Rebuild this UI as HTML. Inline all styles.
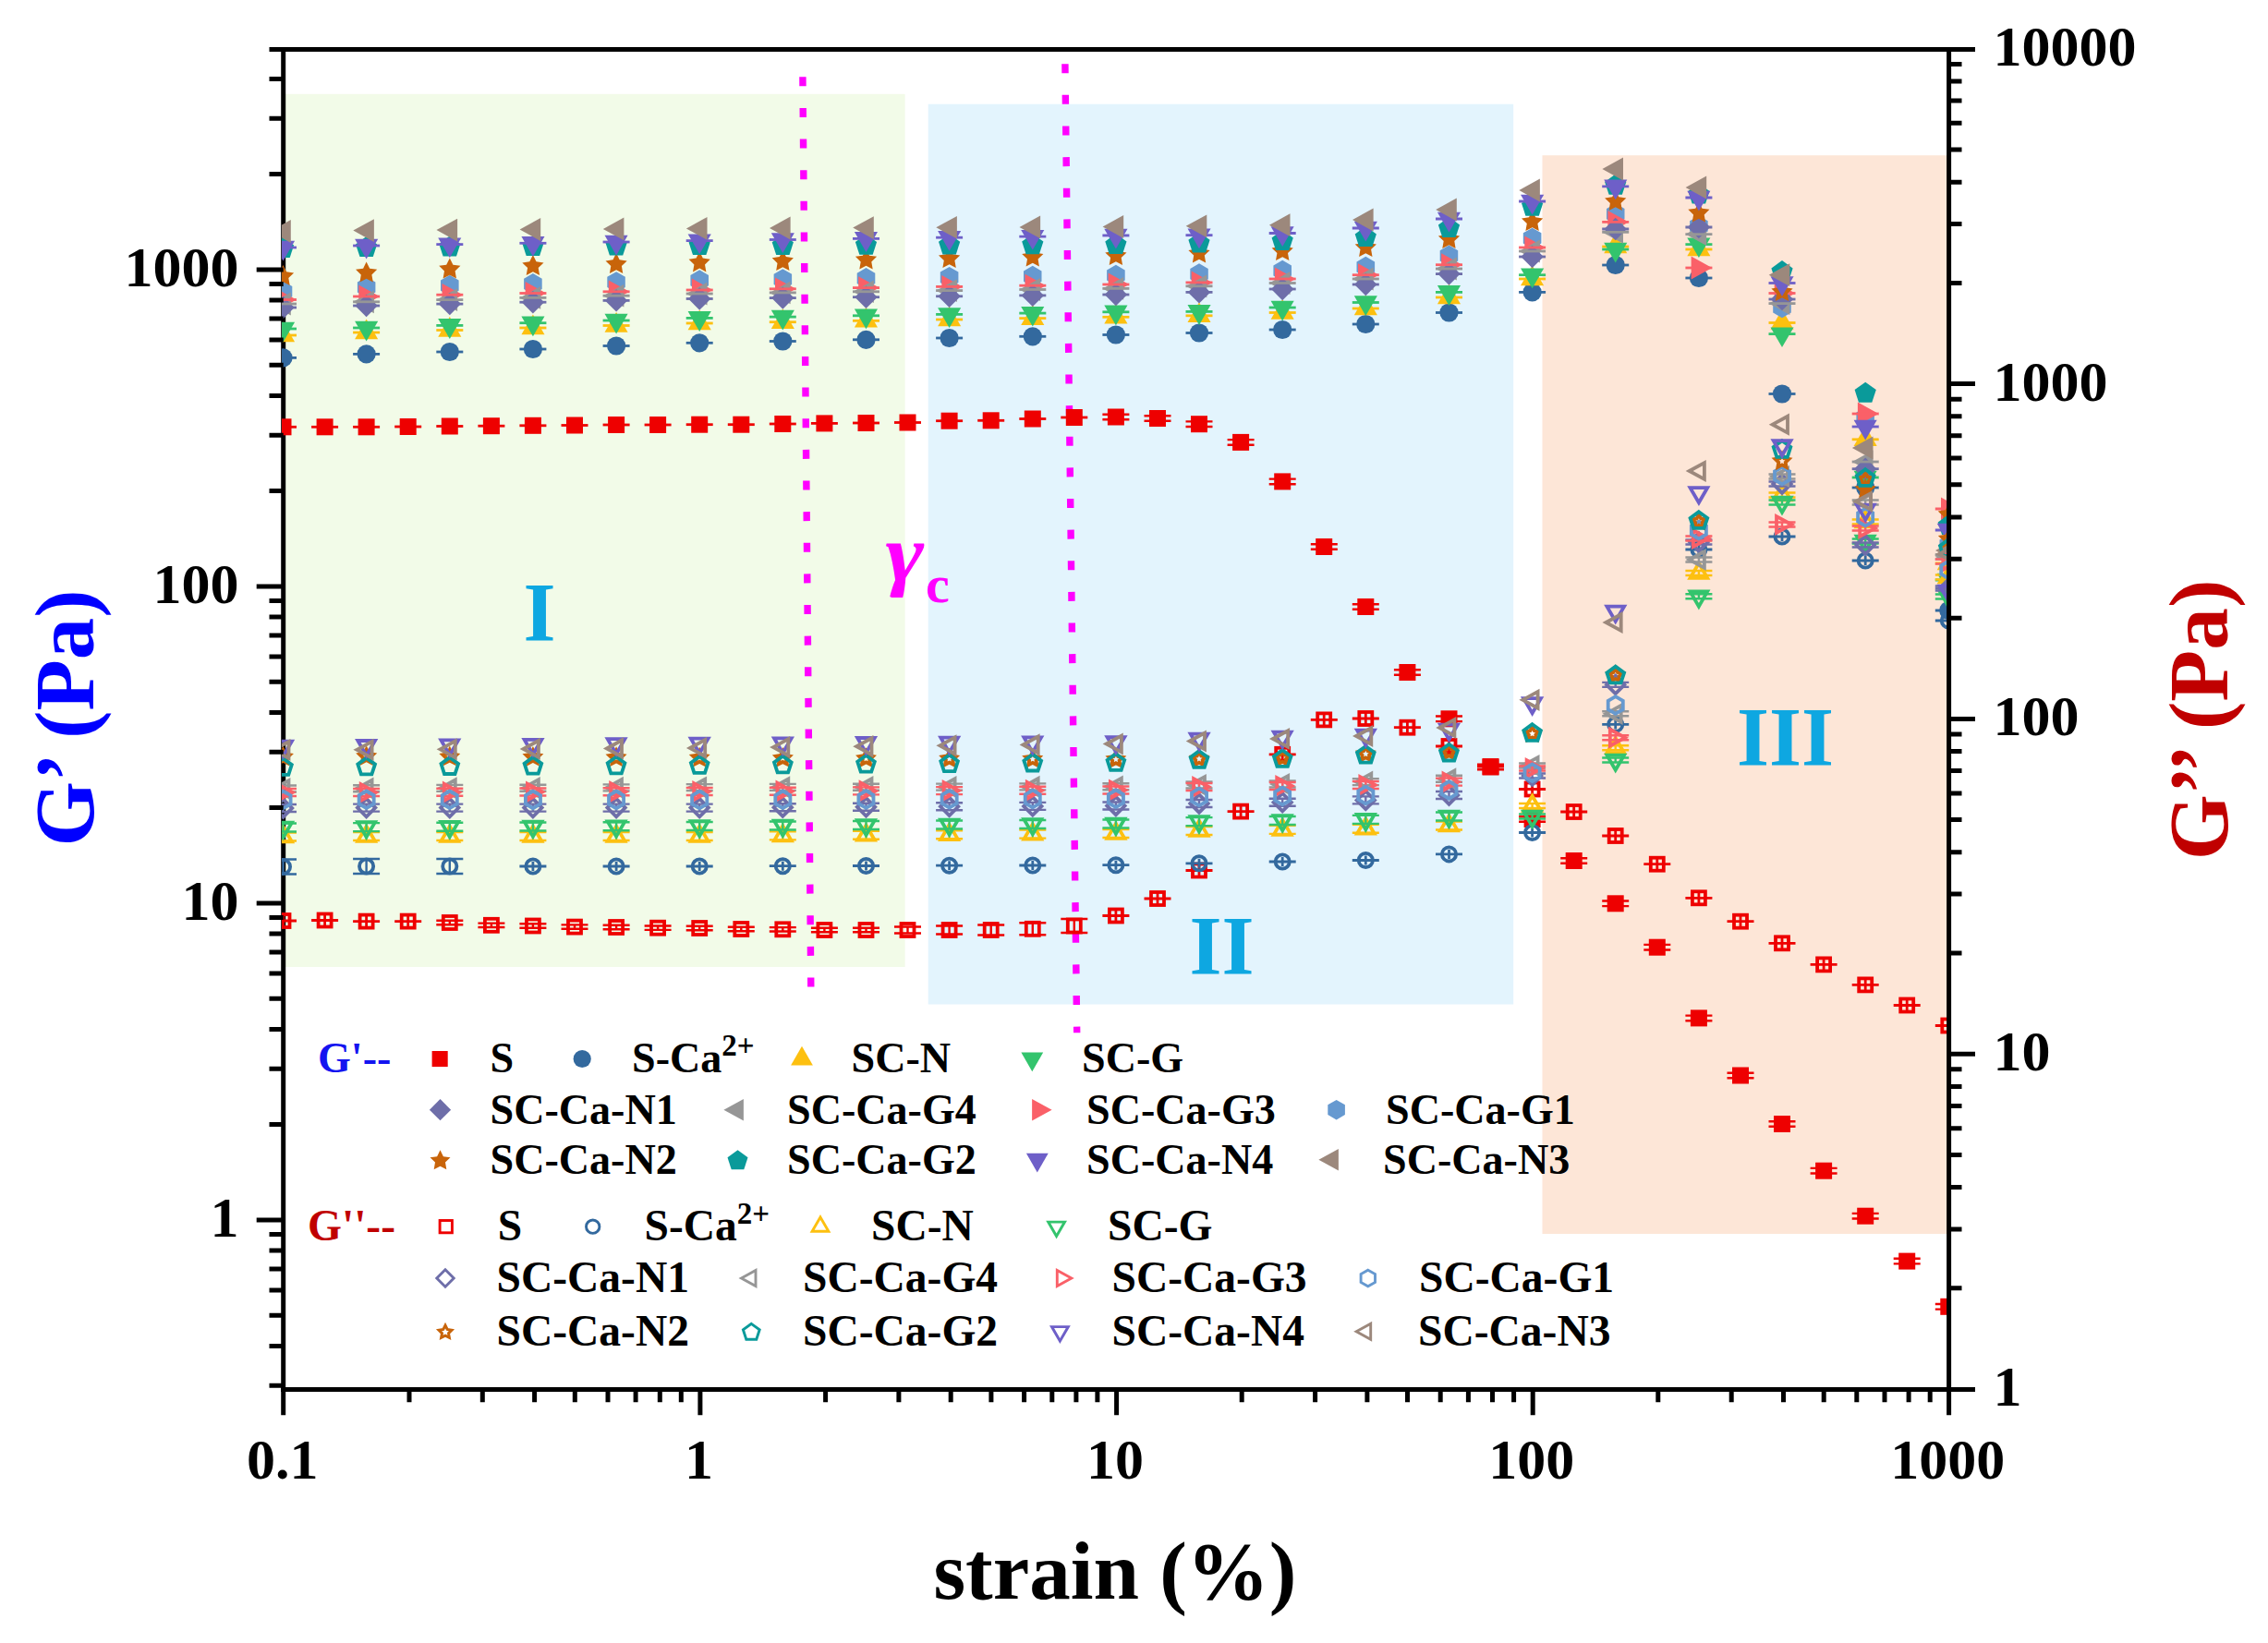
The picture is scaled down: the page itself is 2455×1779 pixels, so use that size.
<!DOCTYPE html>
<html lang="en"><head><meta charset="utf-8"><title>Strain sweep: G' and G'' versus strain</title>
<style>
html,body{margin:0;padding:0;background:#fff}
body{width:2455px;height:1779px;overflow:hidden}
svg{display:block}
text{font-family:"Liberation Serif","Times New Roman",Times,serif;font-weight:bold}
.tk{font-size:62px;fill:#000}
.lg1{font-size:46.1px;fill:#000}
.lg2{font-size:47.5px;fill:#000}
.ax{font-size:88px}
.rg{font-size:90px;fill:#0ea7e1}
</style></head>
<body>
<svg width="2455" height="1779" viewBox="0 0 2455 1779">
<rect width="2455" height="1779" fill="#fff"/>
<defs><clipPath id="pc"><rect x="305" y="53.6" width="1804.6" height="1450.8"/></clipPath></defs>
<g id="regions">
<rect x="306.7" y="101.8" width="672.9" height="945.2" fill="#f2fbe8"/>
<rect x="1004.7" y="112.7" width="633.5" height="974.8" fill="#e3f4fd"/>
<rect x="1669.5" y="168.2" width="440.1" height="1167.8" fill="#fde6d7"/>
</g>
<g id="guides" stroke="#ff00ff" stroke-width="7.4" stroke-dasharray="10 23.63" fill="none">
<path d="M868.9 83.3L877.8 1069.4"/>
<path d="M1152.9 69.2L1165.7 1118.2"/>
</g>
<path d="M306.7 51.1V1506.9" stroke="#000" stroke-width="5" fill="none"/>
<g id="data" clip-path="url(#pc)">
<g id="storage-modulus">
<path d="M292 462.3H321" stroke="#ee0000" stroke-width="2.8" fill="none"/><rect x="297.5" y="453.3" width="18" height="18" fill="#ee0000"/><path d="M337.1 462.3H366.1" stroke="#ee0000" stroke-width="2.8" fill="none"/><rect x="342.6" y="453.3" width="18" height="18" fill="#ee0000"/><path d="M382.1 462.3H411.1" stroke="#ee0000" stroke-width="2.8" fill="none"/><rect x="387.6" y="453.3" width="18" height="18" fill="#ee0000"/><path d="M427.2 462H456.2" stroke="#ee0000" stroke-width="2.8" fill="none"/><rect x="432.7" y="453" width="18" height="18" fill="#ee0000"/><path d="M472.3 461.5H501.3" stroke="#ee0000" stroke-width="2.8" fill="none"/><rect x="477.8" y="452.5" width="18" height="18" fill="#ee0000"/><path d="M517.4 461.2H546.4" stroke="#ee0000" stroke-width="2.8" fill="none"/><rect x="522.9" y="452.2" width="18" height="18" fill="#ee0000"/><path d="M562.4 460.8H591.4" stroke="#ee0000" stroke-width="2.8" fill="none"/><rect x="567.9" y="451.8" width="18" height="18" fill="#ee0000"/><path d="M607.5 460.5H636.5" stroke="#ee0000" stroke-width="2.8" fill="none"/><rect x="613" y="451.5" width="18" height="18" fill="#ee0000"/><path d="M652.6 460H681.6" stroke="#ee0000" stroke-width="2.8" fill="none"/><rect x="658.1" y="451" width="18" height="18" fill="#ee0000"/><path d="M697.6 460H726.6" stroke="#ee0000" stroke-width="2.8" fill="none"/><rect x="703.1" y="451" width="18" height="18" fill="#ee0000"/><path d="M742.7 459.7H771.7" stroke="#ee0000" stroke-width="2.8" fill="none"/><rect x="748.2" y="450.7" width="18" height="18" fill="#ee0000"/><path d="M787.8 459.7H816.8" stroke="#ee0000" stroke-width="2.8" fill="none"/><rect x="793.3" y="450.7" width="18" height="18" fill="#ee0000"/><path d="M832.8 459H861.8" stroke="#ee0000" stroke-width="2.8" fill="none"/><rect x="838.3" y="450" width="18" height="18" fill="#ee0000"/><path d="M877.9 458.4H906.9" stroke="#ee0000" stroke-width="2.8" fill="none"/><rect x="883.4" y="449.4" width="18" height="18" fill="#ee0000"/><path d="M923 458H952" stroke="#ee0000" stroke-width="2.8" fill="none"/><rect x="928.5" y="449" width="18" height="18" fill="#ee0000"/><path d="M968 457.5H997" stroke="#ee0000" stroke-width="2.8" fill="none"/><rect x="973.5" y="448.5" width="18" height="18" fill="#ee0000"/><path d="M1013.1 455.7H1042.1" stroke="#ee0000" stroke-width="2.8" fill="none"/><rect x="1018.6" y="446.7" width="18" height="18" fill="#ee0000"/><path d="M1058.2 455.3H1087.2" stroke="#ee0000" stroke-width="2.8" fill="none"/><rect x="1063.7" y="446.3" width="18" height="18" fill="#ee0000"/><path d="M1103.3 453.5H1132.3" stroke="#ee0000" stroke-width="2.8" fill="none"/><rect x="1108.8" y="444.5" width="18" height="18" fill="#ee0000"/><path d="M1148.3 452H1177.3" stroke="#ee0000" stroke-width="2.8" fill="none"/><rect x="1153.8" y="443" width="18" height="18" fill="#ee0000"/><path d="M1193.4 448.7H1222.4M1193.4 454.3H1222.4M1207.9 448.7V454.3" stroke="#ee0000" stroke-width="2.4" fill="none"/><rect x="1198.9" y="442.5" width="18" height="18" fill="#ee0000"/><path d="M1238.5 450.2H1267.5M1238.5 455.8H1267.5M1253 450.2V455.8" stroke="#ee0000" stroke-width="2.4" fill="none"/><rect x="1244" y="444" width="18" height="18" fill="#ee0000"/><path d="M1283.5 456.4H1312.5M1283.5 462H1312.5M1298 456.4V462" stroke="#ee0000" stroke-width="2.4" fill="none"/><rect x="1289" y="450.2" width="18" height="18" fill="#ee0000"/><path d="M1328.6 476.1H1357.6M1328.6 481.7H1357.6M1343.1 476.1V481.7" stroke="#ee0000" stroke-width="2.4" fill="none"/><rect x="1334.1" y="469.9" width="18" height="18" fill="#ee0000"/><path d="M1373.7 518.6H1402.7M1373.7 524.2H1402.7M1388.2 518.6V524.2" stroke="#ee0000" stroke-width="2.4" fill="none"/><rect x="1379.2" y="512.4" width="18" height="18" fill="#ee0000"/><path d="M1418.8 589.2H1447.8M1418.8 594.8H1447.8M1433.2 589.2V594.8" stroke="#ee0000" stroke-width="2.4" fill="none"/><rect x="1424.2" y="583" width="18" height="18" fill="#ee0000"/><path d="M1463.8 654.2H1492.8M1463.8 659.8H1492.8M1478.3 654.2V659.8" stroke="#ee0000" stroke-width="2.4" fill="none"/><rect x="1469.3" y="648" width="18" height="18" fill="#ee0000"/><path d="M1508.9 725.2H1537.9M1508.9 730.8H1537.9M1523.4 725.2V730.8" stroke="#ee0000" stroke-width="2.4" fill="none"/><rect x="1514.4" y="719" width="18" height="18" fill="#ee0000"/><path d="M1554 775.5H1583M1554 781.1H1583M1568.5 775.5V781.1" stroke="#ee0000" stroke-width="2.4" fill="none"/><rect x="1559.5" y="769.3" width="18" height="18" fill="#ee0000"/><path d="M1599 827.7H1628M1599 833.3H1628M1613.5 827.7V833.3" stroke="#ee0000" stroke-width="2.4" fill="none"/><rect x="1604.5" y="821.5" width="18" height="18" fill="#ee0000"/><path d="M1644.1 884.2H1673.1M1644.1 889.8H1673.1M1658.6 884.2V889.8" stroke="#ee0000" stroke-width="2.4" fill="none"/><rect x="1649.6" y="878" width="18" height="18" fill="#ee0000"/><path d="M1689.2 929.2H1718.2M1689.2 934.8H1718.2M1703.7 929.2V934.8" stroke="#ee0000" stroke-width="2.4" fill="none"/><rect x="1694.7" y="923" width="18" height="18" fill="#ee0000"/><path d="M1734.2 975.5H1763.2M1734.2 981.1H1763.2M1748.7 975.5V981.1" stroke="#ee0000" stroke-width="2.4" fill="none"/><rect x="1739.7" y="969.3" width="18" height="18" fill="#ee0000"/><path d="M1779.3 1022.9H1808.3M1779.3 1028.5H1808.3M1793.8 1022.9V1028.5" stroke="#ee0000" stroke-width="2.4" fill="none"/><rect x="1784.8" y="1016.7" width="18" height="18" fill="#ee0000"/><path d="M1824.4 1099.6H1853.4M1824.4 1105.2H1853.4M1838.9 1099.6V1105.2" stroke="#ee0000" stroke-width="2.4" fill="none"/><rect x="1829.9" y="1093.4" width="18" height="18" fill="#ee0000"/><path d="M1869.5 1161.7H1898.5M1869.5 1167.3H1898.5M1884 1161.7V1167.3" stroke="#ee0000" stroke-width="2.4" fill="none"/><rect x="1875" y="1155.5" width="18" height="18" fill="#ee0000"/><path d="M1914.5 1214.2H1943.5M1914.5 1219.8H1943.5M1929 1214.2V1219.8" stroke="#ee0000" stroke-width="2.4" fill="none"/><rect x="1920" y="1208" width="18" height="18" fill="#ee0000"/><path d="M1959.6 1264.9H1988.6M1959.6 1270.5H1988.6M1974.1 1264.9V1270.5" stroke="#ee0000" stroke-width="2.4" fill="none"/><rect x="1965.1" y="1258.7" width="18" height="18" fill="#ee0000"/><path d="M2004.7 1313.9H2033.7M2004.7 1319.5H2033.7M2019.2 1313.9V1319.5" stroke="#ee0000" stroke-width="2.4" fill="none"/><rect x="2010.2" y="1307.7" width="18" height="18" fill="#ee0000"/><path d="M2049.7 1362.8H2078.7M2049.7 1368.4H2078.7M2064.2 1362.8V1368.4" stroke="#ee0000" stroke-width="2.4" fill="none"/><rect x="2055.2" y="1356.6" width="18" height="18" fill="#ee0000"/><path d="M2094.8 1412H2123.8M2094.8 1417.6H2123.8M2109.3 1412V1417.6" stroke="#ee0000" stroke-width="2.4" fill="none"/><rect x="2100.3" y="1405.8" width="18" height="18" fill="#ee0000"/>
<path d="M292 387.4H321" stroke="#33699e" stroke-width="2.8" fill="none"/><circle cx="306.5" cy="387.4" r="10.1" fill="#33699e"/><path d="M382.1 383.4H411.1" stroke="#33699e" stroke-width="2.8" fill="none"/><circle cx="396.6" cy="383.4" r="10.1" fill="#33699e"/><path d="M472.3 381H501.3" stroke="#33699e" stroke-width="2.8" fill="none"/><circle cx="486.8" cy="381" r="10.1" fill="#33699e"/><path d="M562.4 378H591.4" stroke="#33699e" stroke-width="2.8" fill="none"/><circle cx="576.9" cy="378" r="10.1" fill="#33699e"/><path d="M652.6 374.5H681.6" stroke="#33699e" stroke-width="2.8" fill="none"/><circle cx="667.1" cy="374.5" r="10.1" fill="#33699e"/><path d="M742.7 371.3H771.7" stroke="#33699e" stroke-width="2.8" fill="none"/><circle cx="757.2" cy="371.3" r="10.1" fill="#33699e"/><path d="M832.8 369.5H861.8" stroke="#33699e" stroke-width="2.8" fill="none"/><circle cx="847.3" cy="369.5" r="10.1" fill="#33699e"/><path d="M923 367.8H952" stroke="#33699e" stroke-width="2.8" fill="none"/><circle cx="937.5" cy="367.8" r="10.1" fill="#33699e"/><path d="M1013.1 366H1042.1" stroke="#33699e" stroke-width="2.8" fill="none"/><circle cx="1027.6" cy="366" r="10.1" fill="#33699e"/><path d="M1103.3 364.3H1132.3" stroke="#33699e" stroke-width="2.8" fill="none"/><circle cx="1117.8" cy="364.3" r="10.1" fill="#33699e"/><path d="M1193.4 362.5H1222.4" stroke="#33699e" stroke-width="2.8" fill="none"/><circle cx="1207.9" cy="362.5" r="10.1" fill="#33699e"/><path d="M1283.5 360.5H1312.5" stroke="#33699e" stroke-width="2.8" fill="none"/><circle cx="1298" cy="360.5" r="10.1" fill="#33699e"/><path d="M1373.7 357H1402.7" stroke="#33699e" stroke-width="2.8" fill="none"/><circle cx="1388.2" cy="357" r="10.1" fill="#33699e"/><path d="M1463.8 351H1492.8" stroke="#33699e" stroke-width="2.8" fill="none"/><circle cx="1478.3" cy="351" r="10.1" fill="#33699e"/><path d="M1554 338.5H1583" stroke="#33699e" stroke-width="2.8" fill="none"/><circle cx="1568.5" cy="338.5" r="10.1" fill="#33699e"/><path d="M1644.1 316.4H1673.1" stroke="#33699e" stroke-width="2.8" fill="none"/><circle cx="1658.6" cy="316.4" r="10.1" fill="#33699e"/><path d="M1734.2 287H1763.2" stroke="#33699e" stroke-width="2.8" fill="none"/><circle cx="1748.7" cy="287" r="10.1" fill="#33699e"/><path d="M1824.4 301H1853.4" stroke="#33699e" stroke-width="2.8" fill="none"/><circle cx="1838.9" cy="301" r="10.1" fill="#33699e"/><path d="M1914.5 426.5H1943.5" stroke="#33699e" stroke-width="2.8" fill="none"/><circle cx="1929" cy="426.5" r="10.1" fill="#33699e"/><path d="M2004.7 528H2033.7" stroke="#33699e" stroke-width="2.8" fill="none"/><circle cx="2019.2" cy="528" r="10.1" fill="#33699e"/><path d="M2094.8 661H2123.8" stroke="#33699e" stroke-width="2.8" fill="none"/><circle cx="2109.3" cy="661" r="10.1" fill="#33699e"/>
<path d="M292 363H321" stroke="#fdc010" stroke-width="2.8" fill="none"/><polygon points="306.5,348.5 319.1,370.2 293.9,370.2" fill="#fdc010"/><path d="M382.1 360H411.1" stroke="#fdc010" stroke-width="2.8" fill="none"/><polygon points="396.6,345.5 409.2,367.2 384.1,367.2" fill="#fdc010"/><path d="M472.3 357.5H501.3" stroke="#fdc010" stroke-width="2.8" fill="none"/><polygon points="486.8,343 499.3,364.8 474.2,364.8" fill="#fdc010"/><path d="M562.4 355H591.4" stroke="#fdc010" stroke-width="2.8" fill="none"/><polygon points="576.9,340.5 589.5,362.2 564.4,362.2" fill="#fdc010"/><path d="M652.6 352.5H681.6" stroke="#fdc010" stroke-width="2.8" fill="none"/><polygon points="667.1,338 679.6,359.8 654.5,359.8" fill="#fdc010"/><path d="M742.7 350H771.7" stroke="#fdc010" stroke-width="2.8" fill="none"/><polygon points="757.2,335.5 769.8,357.2 744.6,357.2" fill="#fdc010"/><path d="M832.8 348.7H861.8" stroke="#fdc010" stroke-width="2.8" fill="none"/><polygon points="847.3,334.2 859.9,355.9 834.8,355.9" fill="#fdc010"/><path d="M923 347.3H952" stroke="#fdc010" stroke-width="2.8" fill="none"/><polygon points="937.5,332.8 950,354.6 924.9,354.6" fill="#fdc010"/><path d="M1013.1 346H1042.1" stroke="#fdc010" stroke-width="2.8" fill="none"/><polygon points="1027.6,331.5 1040.2,353.2 1015.1,353.2" fill="#fdc010"/><path d="M1103.3 344.6H1132.3" stroke="#fdc010" stroke-width="2.8" fill="none"/><polygon points="1117.8,330.1 1130.3,351.9 1105.2,351.9" fill="#fdc010"/><path d="M1193.4 343.3H1222.4" stroke="#fdc010" stroke-width="2.8" fill="none"/><polygon points="1207.9,328.8 1220.5,350.6 1195.3,350.6" fill="#fdc010"/><path d="M1283.5 341.8H1312.5" stroke="#fdc010" stroke-width="2.8" fill="none"/><polygon points="1298,327.3 1310.6,349.1 1285.5,349.1" fill="#fdc010"/><path d="M1373.7 338.5H1402.7" stroke="#fdc010" stroke-width="2.8" fill="none"/><polygon points="1388.2,324 1400.7,345.8 1375.6,345.8" fill="#fdc010"/><path d="M1463.8 334H1492.8" stroke="#fdc010" stroke-width="2.8" fill="none"/><polygon points="1478.3,319.5 1490.9,341.2 1465.8,341.2" fill="#fdc010"/><path d="M1554 322H1583" stroke="#fdc010" stroke-width="2.8" fill="none"/><polygon points="1568.5,307.5 1581,329.2 1555.9,329.2" fill="#fdc010"/><path d="M1644.1 302H1673.1" stroke="#fdc010" stroke-width="2.8" fill="none"/><polygon points="1658.6,287.5 1671.2,309.2 1646,309.2" fill="#fdc010"/><path d="M1734.2 267H1763.2" stroke="#fdc010" stroke-width="2.8" fill="none"/><polygon points="1748.7,252.5 1761.3,274.2 1736.2,274.2" fill="#fdc010"/><path d="M1824.4 270H1853.4" stroke="#fdc010" stroke-width="2.8" fill="none"/><polygon points="1838.9,255.5 1851.4,277.2 1826.3,277.2" fill="#fdc010"/><path d="M1914.5 349.5H1943.5" stroke="#fdc010" stroke-width="2.8" fill="none"/><polygon points="1929,335 1941.6,356.8 1916.5,356.8" fill="#fdc010"/><path d="M2004.7 475.8H2033.7" stroke="#fdc010" stroke-width="2.8" fill="none"/><polygon points="2019.2,461.3 2031.7,483.1 2006.6,483.1" fill="#fdc010"/><path d="M2094.8 610H2123.8" stroke="#fdc010" stroke-width="2.8" fill="none"/><polygon points="2109.3,595.5 2121.9,617.2 2096.7,617.2" fill="#fdc010"/>
<path d="M292 356H321" stroke="#33c46d" stroke-width="2.8" fill="none"/><polygon points="306.5,370.5 319.1,348.8 293.9,348.8" fill="#33c46d"/><path d="M382.1 355H411.1" stroke="#33c46d" stroke-width="2.8" fill="none"/><polygon points="396.6,369.5 409.2,347.8 384.1,347.8" fill="#33c46d"/><path d="M472.3 352.4H501.3" stroke="#33c46d" stroke-width="2.8" fill="none"/><polygon points="486.8,366.9 499.3,345.1 474.2,345.1" fill="#33c46d"/><path d="M562.4 349.7H591.4" stroke="#33c46d" stroke-width="2.8" fill="none"/><polygon points="576.9,364.2 589.5,342.4 564.4,342.4" fill="#33c46d"/><path d="M652.6 347H681.6" stroke="#33c46d" stroke-width="2.8" fill="none"/><polygon points="667.1,361.5 679.6,339.8 654.5,339.8" fill="#33c46d"/><path d="M742.7 344.4H771.7" stroke="#33c46d" stroke-width="2.8" fill="none"/><polygon points="757.2,358.9 769.8,337.1 744.6,337.1" fill="#33c46d"/><path d="M832.8 343.1H861.8" stroke="#33c46d" stroke-width="2.8" fill="none"/><polygon points="847.3,357.6 859.9,335.8 834.8,335.8" fill="#33c46d"/><path d="M923 341.8H952" stroke="#33c46d" stroke-width="2.8" fill="none"/><polygon points="937.5,356.3 950,334.5 924.9,334.5" fill="#33c46d"/><path d="M1013.1 340.4H1042.1" stroke="#33c46d" stroke-width="2.8" fill="none"/><polygon points="1027.6,354.9 1040.2,333.2 1015.1,333.2" fill="#33c46d"/><path d="M1103.3 339.1H1132.3" stroke="#33c46d" stroke-width="2.8" fill="none"/><polygon points="1117.8,353.6 1130.3,331.9 1105.2,331.9" fill="#33c46d"/><path d="M1193.4 337.8H1222.4" stroke="#33c46d" stroke-width="2.8" fill="none"/><polygon points="1207.9,352.3 1220.5,330.6 1195.3,330.6" fill="#33c46d"/><path d="M1283.5 337.4H1312.5" stroke="#33c46d" stroke-width="2.8" fill="none"/><polygon points="1298,351.9 1310.6,330.1 1285.5,330.1" fill="#33c46d"/><path d="M1373.7 333H1402.7" stroke="#33c46d" stroke-width="2.8" fill="none"/><polygon points="1388.2,347.5 1400.7,325.8 1375.6,325.8" fill="#33c46d"/><path d="M1463.8 327.5H1492.8" stroke="#33c46d" stroke-width="2.8" fill="none"/><polygon points="1478.3,342 1490.9,320.2 1465.8,320.2" fill="#33c46d"/><path d="M1554 316.4H1583" stroke="#33c46d" stroke-width="2.8" fill="none"/><polygon points="1568.5,330.9 1581,309.1 1555.9,309.1" fill="#33c46d"/><path d="M1644.1 297.7H1673.1" stroke="#33c46d" stroke-width="2.8" fill="none"/><polygon points="1658.6,312.2 1671.2,290.4 1646,290.4" fill="#33c46d"/><path d="M1734.2 270H1763.2" stroke="#33c46d" stroke-width="2.8" fill="none"/><polygon points="1748.7,284.5 1761.3,262.8 1736.2,262.8" fill="#33c46d"/><path d="M1824.4 264.6H1853.4" stroke="#33c46d" stroke-width="2.8" fill="none"/><polygon points="1838.9,279.1 1851.4,257.4 1826.3,257.4" fill="#33c46d"/><path d="M1914.5 361.6H1943.5" stroke="#33c46d" stroke-width="2.8" fill="none"/><polygon points="1929,376.1 1941.6,354.4 1916.5,354.4" fill="#33c46d"/><path d="M2004.7 517H2033.7" stroke="#33c46d" stroke-width="2.8" fill="none"/><polygon points="2019.2,531.5 2031.7,509.8 2006.6,509.8" fill="#33c46d"/><path d="M2094.8 628H2123.8" stroke="#33c46d" stroke-width="2.8" fill="none"/><polygon points="2109.3,642.5 2121.9,620.8 2096.7,620.8" fill="#33c46d"/>
<polygon points="306.5,304.4 316.3,310.1 316.3,321.3 306.5,327 296.7,321.4 296.7,310.1" fill="#6699d0"/><polygon points="396.6,299.7 406.4,305.4 406.4,316.6 396.6,322.3 386.9,316.6 386.9,305.4" fill="#6699d0"/><polygon points="486.8,297.8 496.6,303.5 496.6,314.8 486.8,320.4 477,314.8 477,303.5" fill="#6699d0"/><polygon points="576.9,296 586.7,301.7 586.7,312.9 576.9,318.6 567.1,313 567.1,301.7" fill="#6699d0"/><polygon points="667.1,294.2 676.8,299.8 676.8,311.1 667.1,316.8 657.3,311.1 657.3,299.8" fill="#6699d0"/><polygon points="757.2,292.3 767,298 767,309.2 757.2,314.9 747.4,309.2 747.4,298" fill="#6699d0"/><polygon points="847.3,291.2 857.1,296.8 857.1,308.1 847.3,313.8 837.6,308.1 837.6,296.8" fill="#6699d0"/><polygon points="937.5,290.1 947.3,295.7 947.3,307 937.5,312.7 927.7,307 927.7,295.7" fill="#6699d0"/><polygon points="1027.6,288.9 1037.4,294.6 1037.4,305.9 1027.6,311.5 1017.8,305.9 1017.8,294.6" fill="#6699d0"/><polygon points="1117.8,287.8 1127.5,293.5 1127.5,304.8 1117.8,310.4 1108,304.8 1108,293.5" fill="#6699d0"/><polygon points="1207.9,286.7 1217.7,292.4 1217.7,303.6 1207.9,309.3 1198.1,303.6 1198.1,292.4" fill="#6699d0"/><polygon points="1298,285.3 1307.8,291 1307.8,302.2 1298,307.9 1288.3,302.2 1288.3,291" fill="#6699d0"/><polygon points="1388.2,281.7 1398,287.4 1398,298.6 1388.2,304.3 1378.4,298.6 1378.4,287.4" fill="#6699d0"/><polygon points="1478.3,277.7 1488.1,283.4 1488.1,294.6 1478.3,300.3 1468.5,294.6 1468.5,283.4" fill="#6699d0"/><polygon points="1568.5,265.5 1578.2,271.2 1578.2,282.4 1568.5,288.1 1558.7,282.5 1558.7,271.2" fill="#6699d0"/><polygon points="1658.6,246.7 1668.4,252.3 1668.4,263.6 1658.6,269.3 1648.8,263.6 1648.8,252.3" fill="#6699d0"/><polygon points="1748.7,220.3 1758.5,225.9 1758.5,237.2 1748.7,242.9 1739,237.2 1739,225.9" fill="#6699d0"/><polygon points="1838.9,233.5 1848.7,239.2 1848.7,250.5 1838.9,256.1 1829.1,250.5 1829.1,239.2" fill="#6699d0"/><polygon points="1929,321.7 1938.8,327.4 1938.8,338.6 1929,344.3 1919.2,338.6 1919.2,327.4" fill="#6699d0"/><polygon points="2019.2,440.7 2028.9,446.4 2028.9,457.6 2019.2,463.3 2009.4,457.6 2009.4,446.4" fill="#6699d0"/><polygon points="2109.3,578.7 2119.1,584.4 2119.1,595.6 2109.3,601.3 2099.5,595.6 2099.5,584.4" fill="#6699d0"/>
<polygon points="320.8,324.5 298.2,312.1 298.2,336.9" fill="#fa6068"/><polygon points="410.9,321 388.3,308.6 388.3,333.4" fill="#fa6068"/><polygon points="501.1,319.2 478.5,306.9 478.5,331.6" fill="#fa6068"/><polygon points="591.2,317.5 568.6,305.1 568.6,329.9" fill="#fa6068"/><polygon points="681.4,315.8 658.8,303.4 658.8,328.1" fill="#fa6068"/><polygon points="771.5,314 748.9,301.6 748.9,326.4" fill="#fa6068"/><polygon points="861.6,312.8 839,300.4 839,325.2" fill="#fa6068"/><polygon points="951.8,311.6 929.2,299.2 929.2,324" fill="#fa6068"/><polygon points="1041.9,310.4 1019.3,298 1019.3,322.8" fill="#fa6068"/><polygon points="1132.1,309.2 1109.5,296.8 1109.5,321.6" fill="#fa6068"/><polygon points="1222.2,308 1199.6,295.6 1199.6,320.4" fill="#fa6068"/><polygon points="1312.3,305.9 1289.7,293.5 1289.7,318.3" fill="#fa6068"/><polygon points="1402.5,302 1379.9,289.6 1379.9,314.4" fill="#fa6068"/><polygon points="1492.6,297.7 1470,285.3 1470,310.1" fill="#fa6068"/><polygon points="1582.8,286.7 1560.2,274.3 1560.2,299.1" fill="#fa6068"/><polygon points="1672.9,268 1650.3,255.6 1650.3,280.4" fill="#fa6068"/><polygon points="1763,240.4 1740.4,228 1740.4,252.8" fill="#fa6068"/><polygon points="1853.2,290 1830.6,277.6 1830.6,302.4" fill="#fa6068"/><polygon points="1943.3,317.5 1920.7,305.1 1920.7,329.9" fill="#fa6068"/><polygon points="2033.5,448 2010.9,435.6 2010.9,460.4" fill="#fa6068"/><polygon points="2123.6,551 2101,538.6 2101,563.4" fill="#fa6068"/>
<polygon points="292.2,329 314.8,316.6 314.8,341.4" fill="#969696"/><polygon points="382.3,326.8 404.9,314.4 404.9,339.2" fill="#969696"/><polygon points="472.5,324.6 495.1,312.2 495.1,337" fill="#969696"/><polygon points="562.6,322.4 585.2,310 585.2,334.8" fill="#969696"/><polygon points="652.8,320.2 675.4,307.8 675.4,332.6" fill="#969696"/><polygon points="742.9,318 765.5,305.6 765.5,330.4" fill="#969696"/><polygon points="833,316.9 855.6,304.5 855.6,329.3" fill="#969696"/><polygon points="923.2,315.8 945.8,303.4 945.8,328.1" fill="#969696"/><polygon points="1013.3,314.6 1035.9,302.3 1035.9,327" fill="#969696"/><polygon points="1103.5,313.5 1126.1,301.1 1126.1,325.9" fill="#969696"/><polygon points="1193.6,312.4 1216.2,300 1216.2,324.8" fill="#969696"/><polygon points="1283.7,309.8 1306.3,297.4 1306.3,322.2" fill="#969696"/><polygon points="1373.9,306.5 1396.5,294.1 1396.5,318.9" fill="#969696"/><polygon points="1464,302 1486.6,289.6 1486.6,314.4" fill="#969696"/><polygon points="1554.2,291 1576.8,278.6 1576.8,303.4" fill="#969696"/><polygon points="1644.3,272 1666.9,259.6 1666.9,284.4" fill="#969696"/><polygon points="1734.4,251.4 1757,239 1757,263.8" fill="#969696"/><polygon points="1824.6,253.6 1847.2,241.2 1847.2,266" fill="#969696"/><polygon points="1914.7,328.6 1937.3,316.2 1937.3,341" fill="#969696"/><polygon points="2004.9,500 2027.5,487.6 2027.5,512.4" fill="#969696"/><polygon points="2095,601 2117.6,588.6 2117.6,613.4" fill="#969696"/>
<path d="M292 333H321" stroke="#6e6ea9" stroke-width="2.8" fill="none"/><polygon points="306.5,320.8 318.7,333 306.5,345.2 294.3,333" fill="#6e6ea9"/><path d="M382.1 331H411.1" stroke="#6e6ea9" stroke-width="2.8" fill="none"/><polygon points="396.6,318.8 408.8,331 396.6,343.2 384.4,331" fill="#6e6ea9"/><path d="M472.3 329.1H501.3" stroke="#6e6ea9" stroke-width="2.8" fill="none"/><polygon points="486.8,316.9 499,329.1 486.8,341.3 474.6,329.1" fill="#6e6ea9"/><path d="M562.4 327.2H591.4" stroke="#6e6ea9" stroke-width="2.8" fill="none"/><polygon points="576.9,315.1 589.1,327.2 576.9,339.4 564.7,327.2" fill="#6e6ea9"/><path d="M652.6 325.4H681.6" stroke="#6e6ea9" stroke-width="2.8" fill="none"/><polygon points="667.1,313.2 679.3,325.4 667.1,337.6 654.9,325.4" fill="#6e6ea9"/><path d="M742.7 323.5H771.7" stroke="#6e6ea9" stroke-width="2.8" fill="none"/><polygon points="757.2,311.3 769.4,323.5 757.2,335.7 745,323.5" fill="#6e6ea9"/><path d="M832.8 322.6H861.8" stroke="#6e6ea9" stroke-width="2.8" fill="none"/><polygon points="847.3,310.4 859.5,322.6 847.3,334.8 835.1,322.6" fill="#6e6ea9"/><path d="M923 321.7H952" stroke="#6e6ea9" stroke-width="2.8" fill="none"/><polygon points="937.5,309.5 949.7,321.7 937.5,333.9 925.3,321.7" fill="#6e6ea9"/><path d="M1013.1 320.8H1042.1" stroke="#6e6ea9" stroke-width="2.8" fill="none"/><polygon points="1027.6,308.6 1039.8,320.8 1027.6,333 1015.4,320.8" fill="#6e6ea9"/><path d="M1103.3 319.9H1132.3" stroke="#6e6ea9" stroke-width="2.8" fill="none"/><polygon points="1117.8,307.7 1130,319.9 1117.8,332.1 1105.6,319.9" fill="#6e6ea9"/><path d="M1193.4 319H1222.4" stroke="#6e6ea9" stroke-width="2.8" fill="none"/><polygon points="1207.9,306.8 1220.1,319 1207.9,331.2 1195.7,319" fill="#6e6ea9"/><path d="M1283.5 316.4H1312.5" stroke="#6e6ea9" stroke-width="2.8" fill="none"/><polygon points="1298,304.2 1310.2,316.4 1298,328.6 1285.8,316.4" fill="#6e6ea9"/><path d="M1373.7 313H1402.7" stroke="#6e6ea9" stroke-width="2.8" fill="none"/><polygon points="1388.2,300.8 1400.4,313 1388.2,325.2 1376,313" fill="#6e6ea9"/><path d="M1463.8 308H1492.8" stroke="#6e6ea9" stroke-width="2.8" fill="none"/><polygon points="1478.3,295.8 1490.5,308 1478.3,320.2 1466.1,308" fill="#6e6ea9"/><path d="M1554 296.6H1583" stroke="#6e6ea9" stroke-width="2.8" fill="none"/><polygon points="1568.5,284.4 1580.7,296.6 1568.5,308.8 1556.3,296.6" fill="#6e6ea9"/><path d="M1644.1 278H1673.1" stroke="#6e6ea9" stroke-width="2.8" fill="none"/><polygon points="1658.6,265.8 1670.8,278 1658.6,290.2 1646.4,278" fill="#6e6ea9"/><path d="M1734.2 248H1763.2" stroke="#6e6ea9" stroke-width="2.8" fill="none"/><polygon points="1748.7,235.8 1760.9,248 1748.7,260.2 1736.5,248" fill="#6e6ea9"/><path d="M1824.4 246H1853.4" stroke="#6e6ea9" stroke-width="2.8" fill="none"/><polygon points="1838.9,233.8 1851.1,246 1838.9,258.2 1826.7,246" fill="#6e6ea9"/><path d="M1914.5 324H1943.5" stroke="#6e6ea9" stroke-width="2.8" fill="none"/><polygon points="1929,311.8 1941.2,324 1929,336.2 1916.8,324" fill="#6e6ea9"/><path d="M2004.7 507.7H2033.7" stroke="#6e6ea9" stroke-width="2.8" fill="none"/><polygon points="2019.2,495.5 2031.4,507.7 2019.2,519.9 2007,507.7" fill="#6e6ea9"/><path d="M2094.8 637H2123.8" stroke="#6e6ea9" stroke-width="2.8" fill="none"/><polygon points="2109.3,624.8 2121.5,637 2109.3,649.2 2097.1,637" fill="#6e6ea9"/>
<path d="M292 329H321" stroke="#969696" stroke-width="2.8" fill="none"/><path d="M382.1 326.8H411.1" stroke="#969696" stroke-width="2.8" fill="none"/><path d="M472.3 324.6H501.3" stroke="#969696" stroke-width="2.8" fill="none"/><path d="M562.4 322.4H591.4" stroke="#969696" stroke-width="2.8" fill="none"/><path d="M652.6 320.2H681.6" stroke="#969696" stroke-width="2.8" fill="none"/><path d="M742.7 318H771.7" stroke="#969696" stroke-width="2.8" fill="none"/><path d="M832.8 316.9H861.8" stroke="#969696" stroke-width="2.8" fill="none"/><path d="M923 315.8H952" stroke="#969696" stroke-width="2.8" fill="none"/><path d="M1013.1 314.6H1042.1" stroke="#969696" stroke-width="2.8" fill="none"/><path d="M1103.3 313.5H1132.3" stroke="#969696" stroke-width="2.8" fill="none"/><path d="M1193.4 312.4H1222.4" stroke="#969696" stroke-width="2.8" fill="none"/><path d="M1283.5 309.8H1312.5" stroke="#969696" stroke-width="2.8" fill="none"/><path d="M1373.7 306.5H1402.7" stroke="#969696" stroke-width="2.8" fill="none"/><path d="M1463.8 302H1492.8" stroke="#969696" stroke-width="2.8" fill="none"/><path d="M1554 291H1583" stroke="#969696" stroke-width="2.8" fill="none"/><path d="M1644.1 272H1673.1" stroke="#969696" stroke-width="2.8" fill="none"/><path d="M1734.2 251.4H1763.2" stroke="#969696" stroke-width="2.8" fill="none"/><path d="M1824.4 253.6H1853.4" stroke="#969696" stroke-width="2.8" fill="none"/><path d="M1914.5 328.6H1943.5" stroke="#969696" stroke-width="2.8" fill="none"/><path d="M2004.7 500H2033.7" stroke="#969696" stroke-width="2.8" fill="none"/><path d="M2094.8 601H2123.8" stroke="#969696" stroke-width="2.8" fill="none"/>
<path d="M292 324.5H321" stroke="#fa6068" stroke-width="2.8" fill="none"/><path d="M382.1 321H411.1" stroke="#fa6068" stroke-width="2.8" fill="none"/><path d="M472.3 319.2H501.3" stroke="#fa6068" stroke-width="2.8" fill="none"/><path d="M562.4 317.5H591.4" stroke="#fa6068" stroke-width="2.8" fill="none"/><path d="M652.6 315.8H681.6" stroke="#fa6068" stroke-width="2.8" fill="none"/><path d="M742.7 314H771.7" stroke="#fa6068" stroke-width="2.8" fill="none"/><path d="M832.8 312.8H861.8" stroke="#fa6068" stroke-width="2.8" fill="none"/><path d="M923 311.6H952" stroke="#fa6068" stroke-width="2.8" fill="none"/><path d="M1013.1 310.4H1042.1" stroke="#fa6068" stroke-width="2.8" fill="none"/><path d="M1103.3 309.2H1132.3" stroke="#fa6068" stroke-width="2.8" fill="none"/><path d="M1193.4 308H1222.4" stroke="#fa6068" stroke-width="2.8" fill="none"/><path d="M1283.5 305.9H1312.5" stroke="#fa6068" stroke-width="2.8" fill="none"/><path d="M1373.7 302H1402.7" stroke="#fa6068" stroke-width="2.8" fill="none"/><path d="M1463.8 297.7H1492.8" stroke="#fa6068" stroke-width="2.8" fill="none"/><path d="M1554 286.7H1583" stroke="#fa6068" stroke-width="2.8" fill="none"/><path d="M1644.1 268H1673.1" stroke="#fa6068" stroke-width="2.8" fill="none"/><path d="M1734.2 240.4H1763.2" stroke="#fa6068" stroke-width="2.8" fill="none"/><path d="M1824.4 290H1853.4" stroke="#fa6068" stroke-width="2.8" fill="none"/><path d="M1914.5 317.5H1943.5" stroke="#fa6068" stroke-width="2.8" fill="none"/><path d="M2004.7 448H2033.7" stroke="#fa6068" stroke-width="2.8" fill="none"/><path d="M2094.8 551H2123.8" stroke="#fa6068" stroke-width="2.8" fill="none"/>
<polygon points="306.5,287 310.1,294.3 318.1,295.4 312.3,301.1 313.7,309.1 306.5,305.3 299.3,309.1 300.7,301.1 294.9,295.4 302.9,294.3" fill="#c8640a"/><polygon points="396.6,283.4 400.2,290.7 408.2,291.8 402.4,297.5 403.8,305.5 396.6,301.7 389.5,305.5 390.8,297.5 385,291.8 393.1,290.7" fill="#c8640a"/><polygon points="486.8,279.4 490.4,286.7 498.4,287.8 492.6,293.5 494,301.5 486.8,297.7 479.6,301.5 481,293.5 475.2,287.8 483.2,286.7" fill="#c8640a"/><polygon points="576.9,276 580.5,283.3 588.5,284.4 582.7,290.1 584.1,298.1 576.9,294.3 569.7,298.1 571.1,290.1 565.3,284.4 573.3,283.3" fill="#c8640a"/><polygon points="667.1,274 670.6,281.3 678.7,282.4 672.9,288.1 674.2,296.1 667.1,292.3 659.9,296.1 661.3,288.1 655.5,282.4 663.5,281.3" fill="#c8640a"/><polygon points="757.2,272.3 760.8,279.6 768.8,280.7 763,286.4 764.4,294.4 757.2,290.6 750,294.4 751.4,286.4 745.6,280.7 753.6,279.6" fill="#c8640a"/><polygon points="847.3,270.9 850.9,278.1 858.9,279.3 853.1,284.9 854.5,292.9 847.3,289.2 840.2,292.9 841.5,284.9 835.7,279.3 843.8,278.1" fill="#c8640a"/><polygon points="937.5,269.4 941.1,276.7 949.1,277.8 943.3,283.5 944.7,291.5 937.5,287.7 930.3,291.5 931.7,283.5 925.9,277.8 933.9,276.7" fill="#c8640a"/><polygon points="1027.6,267.9 1031.2,275.2 1039.2,276.4 1033.4,282 1034.8,290 1027.6,286.2 1020.4,290 1021.8,282 1016,276.4 1024,275.2" fill="#c8640a"/><polygon points="1117.8,266.5 1121.3,273.7 1129.4,274.9 1123.6,280.6 1124.9,288.6 1117.8,284.8 1110.6,288.6 1112,280.6 1106.2,274.9 1114.2,273.7" fill="#c8640a"/><polygon points="1207.9,265 1211.5,272.3 1219.5,273.4 1213.7,279.1 1215.1,287.1 1207.9,283.3 1200.7,287.1 1202.1,279.1 1196.3,273.4 1204.3,272.3" fill="#c8640a"/><polygon points="1298,262.5 1301.6,269.8 1309.6,270.9 1303.8,276.6 1305.2,284.6 1298,280.8 1290.9,284.6 1292.2,276.6 1286.4,270.9 1294.5,269.8" fill="#c8640a"/><polygon points="1388.2,260 1391.8,267.3 1399.8,268.4 1394,274.1 1395.4,282.1 1388.2,278.3 1381,282.1 1382.4,274.1 1376.6,268.4 1384.6,267.3" fill="#c8640a"/><polygon points="1478.3,256 1481.9,263.3 1489.9,264.4 1484.1,270.1 1485.5,278.1 1478.3,274.3 1471.1,278.1 1472.5,270.1 1466.7,264.4 1474.7,263.3" fill="#c8640a"/><polygon points="1568.5,247 1572,254.3 1580.1,255.4 1574.3,261.1 1575.6,269.1 1568.5,265.3 1561.3,269.1 1562.7,261.1 1556.9,255.4 1564.9,254.3" fill="#c8640a"/><polygon points="1658.6,228 1662.2,235.3 1670.2,236.4 1664.4,242.1 1665.8,250.1 1658.6,246.3 1651.4,250.1 1652.8,242.1 1647,236.4 1655,235.3" fill="#c8640a"/><polygon points="1748.7,206 1752.3,213.3 1760.3,214.4 1754.5,220.1 1755.9,228.1 1748.7,224.3 1741.6,228.1 1742.9,220.1 1737.1,214.4 1745.2,213.3" fill="#c8640a"/><polygon points="1838.9,218.4 1842.5,225.7 1850.5,226.8 1844.7,232.5 1846.1,240.5 1838.9,236.7 1831.7,240.5 1833.1,232.5 1827.3,226.8 1835.3,225.7" fill="#c8640a"/><polygon points="1929,304 1932.6,311.3 1940.6,312.4 1934.8,318.1 1936.2,326.1 1929,322.3 1921.8,326.1 1923.2,318.1 1917.4,312.4 1925.4,311.3" fill="#c8640a"/><polygon points="2019.2,518 2022.7,525.3 2030.8,526.4 2025,532.1 2026.3,540.1 2019.2,536.3 2012,540.1 2013.4,532.1 2007.6,526.4 2015.6,525.3" fill="#c8640a"/><polygon points="2109.3,545 2112.9,552.3 2120.9,553.4 2115.1,559.1 2116.5,567.1 2109.3,563.3 2102.1,567.1 2103.5,559.1 2097.7,553.4 2105.7,552.3" fill="#c8640a"/>
<polygon points="306.5,257 318.1,265.4 313.7,279.1 299.3,279.1 294.9,265.4" fill="#0a9a9a"/><polygon points="396.6,256 408.2,264.4 403.8,278.1 389.5,278.1 385,264.4" fill="#0a9a9a"/><polygon points="486.8,255.5 498.4,263.9 494,277.6 479.6,277.6 475.2,263.9" fill="#0a9a9a"/><polygon points="576.9,255 588.5,263.4 584.1,277.1 569.7,277.1 565.3,263.4" fill="#0a9a9a"/><polygon points="667.1,254.5 678.7,262.9 674.2,276.6 659.9,276.6 655.5,262.9" fill="#0a9a9a"/><polygon points="757.2,254 768.8,262.4 764.4,276.1 750,276.1 745.6,262.4" fill="#0a9a9a"/><polygon points="847.3,253.8 858.9,262.2 854.5,275.9 840.2,275.9 835.7,262.2" fill="#0a9a9a"/><polygon points="937.5,253.6 949.1,262 944.7,275.7 930.3,275.7 925.9,262" fill="#0a9a9a"/><polygon points="1027.6,253.4 1039.2,261.8 1034.8,275.5 1020.4,275.5 1016,261.8" fill="#0a9a9a"/><polygon points="1117.8,253.2 1129.4,261.6 1124.9,275.3 1110.6,275.3 1106.2,261.6" fill="#0a9a9a"/><polygon points="1207.9,253 1219.5,261.4 1215.1,275.1 1200.7,275.1 1196.3,261.4" fill="#0a9a9a"/><polygon points="1298,251.4 1309.6,259.8 1305.2,273.5 1290.9,273.5 1286.4,259.8" fill="#0a9a9a"/><polygon points="1388.2,249 1399.8,257.4 1395.4,271.1 1381,271.1 1376.6,257.4" fill="#0a9a9a"/><polygon points="1478.3,245 1489.9,253.4 1485.5,267.1 1471.1,267.1 1466.7,253.4" fill="#0a9a9a"/><polygon points="1568.5,235 1580.1,243.4 1575.6,257.1 1561.3,257.1 1556.9,243.4" fill="#0a9a9a"/><polygon points="1658.6,211.7 1670.2,220.1 1665.8,233.8 1651.4,233.8 1647,220.1" fill="#0a9a9a"/><polygon points="1748.7,188.6 1760.3,197 1755.9,210.7 1741.6,210.7 1737.1,197" fill="#0a9a9a"/><polygon points="1838.9,198.5 1850.5,206.9 1846.1,220.6 1831.7,220.6 1827.3,206.9" fill="#0a9a9a"/><polygon points="1929,282 1940.6,290.4 1936.2,304.1 1921.8,304.1 1917.4,290.4" fill="#0a9a9a"/><polygon points="2019.2,413.7 2030.8,422.1 2026.3,435.8 2012,435.8 2007.6,422.1" fill="#0a9a9a"/><polygon points="2109.3,557 2120.9,565.4 2116.5,579.1 2102.1,579.1 2097.7,565.4" fill="#0a9a9a"/>
<path d="M292 268H321" stroke="#6e5fc8" stroke-width="2.8" fill="none"/><polygon points="306.5,282.5 319.1,260.8 293.9,260.8" fill="#6e5fc8"/><path d="M382.1 266H411.1" stroke="#6e5fc8" stroke-width="2.8" fill="none"/><polygon points="396.6,280.5 409.2,258.8 384.1,258.8" fill="#6e5fc8"/><path d="M472.3 264.6H501.3" stroke="#6e5fc8" stroke-width="2.8" fill="none"/><polygon points="486.8,279.1 499.3,257.4 474.2,257.4" fill="#6e5fc8"/><path d="M562.4 263.3H591.4" stroke="#6e5fc8" stroke-width="2.8" fill="none"/><polygon points="576.9,277.8 589.5,256.1 564.4,256.1" fill="#6e5fc8"/><path d="M652.6 262H681.6" stroke="#6e5fc8" stroke-width="2.8" fill="none"/><polygon points="667.1,276.5 679.6,254.7 654.5,254.7" fill="#6e5fc8"/><path d="M742.7 260.6H771.7" stroke="#6e5fc8" stroke-width="2.8" fill="none"/><polygon points="757.2,275.1 769.8,253.4 744.6,253.4" fill="#6e5fc8"/><path d="M832.8 259.5H861.8" stroke="#6e5fc8" stroke-width="2.8" fill="none"/><polygon points="847.3,274 859.9,252.2 834.8,252.2" fill="#6e5fc8"/><path d="M923 258.4H952" stroke="#6e5fc8" stroke-width="2.8" fill="none"/><polygon points="937.5,272.9 950,251.1 924.9,251.1" fill="#6e5fc8"/><path d="M1013.1 257.2H1042.1" stroke="#6e5fc8" stroke-width="2.8" fill="none"/><polygon points="1027.6,271.7 1040.2,250 1015.1,250" fill="#6e5fc8"/><path d="M1103.3 256.1H1132.3" stroke="#6e5fc8" stroke-width="2.8" fill="none"/><polygon points="1117.8,270.6 1130.3,248.9 1105.2,248.9" fill="#6e5fc8"/><path d="M1193.4 255H1222.4" stroke="#6e5fc8" stroke-width="2.8" fill="none"/><polygon points="1207.9,269.5 1220.5,247.8 1195.3,247.8" fill="#6e5fc8"/><path d="M1283.5 254.7H1312.5" stroke="#6e5fc8" stroke-width="2.8" fill="none"/><polygon points="1298,269.2 1310.6,247.4 1285.5,247.4" fill="#6e5fc8"/><path d="M1373.7 252.5H1402.7" stroke="#6e5fc8" stroke-width="2.8" fill="none"/><polygon points="1388.2,267 1400.7,245.2 1375.6,245.2" fill="#6e5fc8"/><path d="M1463.8 247H1492.8" stroke="#6e5fc8" stroke-width="2.8" fill="none"/><polygon points="1478.3,261.5 1490.9,239.8 1465.8,239.8" fill="#6e5fc8"/><path d="M1554 237H1583" stroke="#6e5fc8" stroke-width="2.8" fill="none"/><polygon points="1568.5,251.5 1581,229.8 1555.9,229.8" fill="#6e5fc8"/><path d="M1644.1 218H1673.1" stroke="#6e5fc8" stroke-width="2.8" fill="none"/><polygon points="1658.6,232.5 1671.2,210.8 1646,210.8" fill="#6e5fc8"/><path d="M1734.2 201.8H1763.2" stroke="#6e5fc8" stroke-width="2.8" fill="none"/><polygon points="1748.7,216.3 1761.3,194.6 1736.2,194.6" fill="#6e5fc8"/><path d="M1824.4 214H1853.4" stroke="#6e5fc8" stroke-width="2.8" fill="none"/><polygon points="1838.9,228.5 1851.4,206.8 1826.3,206.8" fill="#6e5fc8"/><path d="M1914.5 306.5H1943.5" stroke="#6e5fc8" stroke-width="2.8" fill="none"/><polygon points="1929,321 1941.6,299.2 1916.5,299.2" fill="#6e5fc8"/><path d="M2004.7 462H2033.7" stroke="#6e5fc8" stroke-width="2.8" fill="none"/><polygon points="2019.2,476.5 2031.7,454.8 2006.6,454.8" fill="#6e5fc8"/><path d="M2094.8 574H2123.8" stroke="#6e5fc8" stroke-width="2.8" fill="none"/><polygon points="2109.3,588.5 2121.9,566.8 2096.7,566.8" fill="#6e5fc8"/>
<polygon points="292.2,250.5 314.8,238.1 314.8,262.9" fill="#9c887c"/><polygon points="382.3,249.6 404.9,237.2 404.9,262" fill="#9c887c"/><polygon points="472.5,249.1 495.1,236.7 495.1,261.4" fill="#9c887c"/><polygon points="562.6,248.5 585.2,236.1 585.2,260.9" fill="#9c887c"/><polygon points="652.8,247.9 675.4,235.6 675.4,260.3" fill="#9c887c"/><polygon points="742.9,247.4 765.5,235 765.5,259.8" fill="#9c887c"/><polygon points="833,247 855.6,234.6 855.6,259.4" fill="#9c887c"/><polygon points="923.2,246.6 945.8,234.3 945.8,259" fill="#9c887c"/><polygon points="1013.3,246.3 1035.9,233.9 1035.9,258.6" fill="#9c887c"/><polygon points="1103.5,245.9 1126.1,233.5 1126.1,258.3" fill="#9c887c"/><polygon points="1193.6,245.5 1216.2,233.1 1216.2,257.9" fill="#9c887c"/><polygon points="1283.7,244.8 1306.3,232.4 1306.3,257.2" fill="#9c887c"/><polygon points="1373.9,243.7 1396.5,231.3 1396.5,256.1" fill="#9c887c"/><polygon points="1464,238 1486.6,225.6 1486.6,250.4" fill="#9c887c"/><polygon points="1554.2,227 1576.8,214.6 1576.8,239.4" fill="#9c887c"/><polygon points="1644.3,206 1666.9,193.6 1666.9,218.4" fill="#9c887c"/><polygon points="1734.4,183 1757,170.6 1757,195.4" fill="#9c887c"/><polygon points="1824.6,203 1847.2,190.6 1847.2,215.4" fill="#9c887c"/><polygon points="1914.7,297.7 1937.3,285.3 1937.3,310.1" fill="#9c887c"/><polygon points="2004.9,485 2027.5,472.6 2027.5,497.4" fill="#9c887c"/><polygon points="2095,596 2117.6,583.6 2117.6,608.4" fill="#9c887c"/>
</g>
<g id="loss-modulus">
<path d="M292 997H321M306.5 991V1003" stroke="#ee0000" stroke-width="2.8" fill="none"/><rect x="299.5" y="990" width="14" height="14" fill="none" stroke="#ee0000" stroke-width="3.8"/><path d="M337.1 996.5H366.1M351.6 990.5V1002.5" stroke="#ee0000" stroke-width="2.8" fill="none"/><rect x="344.6" y="989.5" width="14" height="14" fill="none" stroke="#ee0000" stroke-width="3.8"/><path d="M382.1 997.6H411.1M396.6 991.6V1003.6" stroke="#ee0000" stroke-width="2.8" fill="none"/><rect x="389.6" y="990.6" width="14" height="14" fill="none" stroke="#ee0000" stroke-width="3.8"/><path d="M427.2 997.6H456.2M441.7 991.6V1003.6" stroke="#ee0000" stroke-width="2.8" fill="none"/><rect x="434.7" y="990.6" width="14" height="14" fill="none" stroke="#ee0000" stroke-width="3.8"/><path d="M472.3 996.8H501.3M472.3 1001.2H501.3M486.8 996.8V1001.2" stroke="#ee0000" stroke-width="2.4" fill="none"/><rect x="479.8" y="992" width="14" height="14" fill="none" stroke="#ee0000" stroke-width="3.8"/><path d="M517.4 999.6H546.4M517.4 1004H546.4M531.9 999.6V1004" stroke="#ee0000" stroke-width="2.4" fill="none"/><rect x="524.9" y="994.8" width="14" height="14" fill="none" stroke="#ee0000" stroke-width="3.8"/><path d="M562.4 1000.3H591.4M562.4 1004.7H591.4M576.9 1000.3V1004.7" stroke="#ee0000" stroke-width="2.4" fill="none"/><rect x="569.9" y="995.5" width="14" height="14" fill="none" stroke="#ee0000" stroke-width="3.8"/><path d="M607.5 1001.4H636.5M607.5 1005.8H636.5M622 1001.4V1005.8" stroke="#ee0000" stroke-width="2.4" fill="none"/><rect x="615" y="996.6" width="14" height="14" fill="none" stroke="#ee0000" stroke-width="3.8"/><path d="M652.6 1001.8H681.6M652.6 1006.2H681.6M667.1 1001.8V1006.2" stroke="#ee0000" stroke-width="2.4" fill="none"/><rect x="660.1" y="997" width="14" height="14" fill="none" stroke="#ee0000" stroke-width="3.8"/><path d="M697.6 1002.5H726.6M697.6 1006.9H726.6M712.1 1002.5V1006.9" stroke="#ee0000" stroke-width="2.4" fill="none"/><rect x="705.1" y="997.7" width="14" height="14" fill="none" stroke="#ee0000" stroke-width="3.8"/><path d="M742.7 1002.8H771.7M742.7 1007.2H771.7M757.2 1002.8V1007.2" stroke="#ee0000" stroke-width="2.4" fill="none"/><rect x="750.2" y="998" width="14" height="14" fill="none" stroke="#ee0000" stroke-width="3.8"/><path d="M787.8 1003.8H816.8M787.8 1008.2H816.8M802.3 1003.8V1008.2" stroke="#ee0000" stroke-width="2.4" fill="none"/><rect x="795.3" y="999" width="14" height="14" fill="none" stroke="#ee0000" stroke-width="3.8"/><path d="M832.8 1004.1H861.8M832.8 1008.5H861.8M847.3 1004.1V1008.5" stroke="#ee0000" stroke-width="2.4" fill="none"/><rect x="840.3" y="999.3" width="14" height="14" fill="none" stroke="#ee0000" stroke-width="3.8"/><path d="M877.9 1004.8H906.9M877.9 1009.2H906.9M892.4 1004.8V1009.2" stroke="#ee0000" stroke-width="2.4" fill="none"/><rect x="885.4" y="1000" width="14" height="14" fill="none" stroke="#ee0000" stroke-width="3.8"/><path d="M923 1004.8H952M923 1009.2H952M937.5 1004.8V1009.2" stroke="#ee0000" stroke-width="2.4" fill="none"/><rect x="930.5" y="1000" width="14" height="14" fill="none" stroke="#ee0000" stroke-width="3.8"/><path d="M968 1003.5H997M968 1010.5H997M982.5 1003.5V1010.5" stroke="#ee0000" stroke-width="2.4" fill="none"/><rect x="975.5" y="1000" width="14" height="14" fill="none" stroke="#ee0000" stroke-width="3.8"/><path d="M1013.1 1002.5H1042.1M1013.1 1011.5H1042.1M1027.6 1002.5V1011.5" stroke="#ee0000" stroke-width="2.4" fill="none"/><rect x="1020.6" y="1000" width="14" height="14" fill="none" stroke="#ee0000" stroke-width="3.8"/><path d="M1058.2 1001.5H1087.2M1058.2 1012.5H1087.2M1072.7 1001.5V1012.5" stroke="#ee0000" stroke-width="2.4" fill="none"/><rect x="1065.7" y="1000" width="14" height="14" fill="none" stroke="#ee0000" stroke-width="3.8"/><path d="M1103.3 999.3H1132.3M1103.3 1012.3H1132.3M1117.8 999.3V1012.3" stroke="#ee0000" stroke-width="2.4" fill="none"/><rect x="1110.8" y="998.8" width="14" height="14" fill="none" stroke="#ee0000" stroke-width="3.8"/><path d="M1148.3 995H1177.3M1148.3 1010H1177.3M1162.8 995V1010" stroke="#ee0000" stroke-width="2.4" fill="none"/><rect x="1155.8" y="995.5" width="14" height="14" fill="none" stroke="#ee0000" stroke-width="3.8"/><path d="M1193.4 991.5H1222.4M1207.9 985.5V997.5" stroke="#ee0000" stroke-width="2.8" fill="none"/><rect x="1200.9" y="984.5" width="14" height="14" fill="none" stroke="#ee0000" stroke-width="3.8"/><path d="M1238.5 973H1267.5M1253 967V979" stroke="#ee0000" stroke-width="2.8" fill="none"/><rect x="1246" y="966" width="14" height="14" fill="none" stroke="#ee0000" stroke-width="3.8"/><path d="M1283.5 942.5H1312.5M1298 936.5V948.5" stroke="#ee0000" stroke-width="2.8" fill="none"/><rect x="1291" y="935.5" width="14" height="14" fill="none" stroke="#ee0000" stroke-width="3.8"/><path d="M1328.6 878.6H1357.6M1343.1 872.6V884.6" stroke="#ee0000" stroke-width="2.8" fill="none"/><rect x="1336.1" y="871.6" width="14" height="14" fill="none" stroke="#ee0000" stroke-width="3.8"/><path d="M1373.7 816.8H1402.7M1388.2 810.8V822.8" stroke="#ee0000" stroke-width="2.8" fill="none"/><rect x="1381.2" y="809.8" width="14" height="14" fill="none" stroke="#ee0000" stroke-width="3.8"/><path d="M1418.8 779.4H1447.8M1433.2 773.4V785.4" stroke="#ee0000" stroke-width="2.8" fill="none"/><rect x="1426.2" y="772.4" width="14" height="14" fill="none" stroke="#ee0000" stroke-width="3.8"/><path d="M1463.8 778H1492.8M1478.3 772V784" stroke="#ee0000" stroke-width="2.8" fill="none"/><rect x="1471.3" y="771" width="14" height="14" fill="none" stroke="#ee0000" stroke-width="3.8"/><path d="M1508.9 787.7H1537.9M1523.4 781.7V793.7" stroke="#ee0000" stroke-width="2.8" fill="none"/><rect x="1516.4" y="780.7" width="14" height="14" fill="none" stroke="#ee0000" stroke-width="3.8"/><path d="M1554 808H1583M1568.5 802V814" stroke="#ee0000" stroke-width="2.8" fill="none"/><rect x="1561.5" y="801" width="14" height="14" fill="none" stroke="#ee0000" stroke-width="3.8"/><path d="M1599 830H1628M1613.5 824V836" stroke="#ee0000" stroke-width="2.8" fill="none"/><rect x="1606.5" y="823" width="14" height="14" fill="none" stroke="#ee0000" stroke-width="3.8"/><path d="M1644.1 854.5H1673.1M1658.6 848.5V860.5" stroke="#ee0000" stroke-width="2.8" fill="none"/><rect x="1651.6" y="847.5" width="14" height="14" fill="none" stroke="#ee0000" stroke-width="3.8"/><path d="M1689.2 879H1718.2M1703.7 873V885" stroke="#ee0000" stroke-width="2.8" fill="none"/><rect x="1696.7" y="872" width="14" height="14" fill="none" stroke="#ee0000" stroke-width="3.8"/><path d="M1734.2 905H1763.2M1748.7 899V911" stroke="#ee0000" stroke-width="2.8" fill="none"/><rect x="1741.7" y="898" width="14" height="14" fill="none" stroke="#ee0000" stroke-width="3.8"/><path d="M1779.3 935.7H1808.3M1793.8 929.7V941.7" stroke="#ee0000" stroke-width="2.8" fill="none"/><rect x="1786.8" y="928.7" width="14" height="14" fill="none" stroke="#ee0000" stroke-width="3.8"/><path d="M1824.4 972.3H1853.4M1838.9 966.3V978.3" stroke="#ee0000" stroke-width="2.8" fill="none"/><rect x="1831.9" y="965.3" width="14" height="14" fill="none" stroke="#ee0000" stroke-width="3.8"/><path d="M1869.5 997.7H1898.5M1884 991.7V1003.7" stroke="#ee0000" stroke-width="2.8" fill="none"/><rect x="1877" y="990.7" width="14" height="14" fill="none" stroke="#ee0000" stroke-width="3.8"/><path d="M1914.5 1021.3H1943.5M1929 1015.3V1027.3" stroke="#ee0000" stroke-width="2.8" fill="none"/><rect x="1922" y="1014.3" width="14" height="14" fill="none" stroke="#ee0000" stroke-width="3.8"/><path d="M1959.6 1044.4H1988.6M1974.1 1038.4V1050.4" stroke="#ee0000" stroke-width="2.8" fill="none"/><rect x="1967.1" y="1037.4" width="14" height="14" fill="none" stroke="#ee0000" stroke-width="3.8"/><path d="M2004.7 1066.4H2033.7M2019.2 1060.4V1072.4" stroke="#ee0000" stroke-width="2.8" fill="none"/><rect x="2012.2" y="1059.4" width="14" height="14" fill="none" stroke="#ee0000" stroke-width="3.8"/><path d="M2049.7 1088.5H2078.7M2064.2 1082.5V1094.5" stroke="#ee0000" stroke-width="2.8" fill="none"/><rect x="2057.2" y="1081.5" width="14" height="14" fill="none" stroke="#ee0000" stroke-width="3.8"/><path d="M2094.8 1110.5H2123.8M2109.3 1104.5V1116.5" stroke="#ee0000" stroke-width="2.8" fill="none"/><rect x="2102.3" y="1103.5" width="14" height="14" fill="none" stroke="#ee0000" stroke-width="3.8"/>
<path d="M292 930.5H321M292 946.5H321M306.5 930.5V946.5" stroke="#33699e" stroke-width="2.4" fill="none"/><circle cx="306.5" cy="938.5" r="7.6" fill="none" stroke="#33699e" stroke-width="3.8"/><path d="M382.1 930H411.1M382.1 946H411.1M396.6 930V946" stroke="#33699e" stroke-width="2.4" fill="none"/><circle cx="396.6" cy="938" r="7.6" fill="none" stroke="#33699e" stroke-width="3.8"/><path d="M472.3 930H501.3M472.3 946H501.3M486.8 930V946" stroke="#33699e" stroke-width="2.4" fill="none"/><circle cx="486.8" cy="938" r="7.6" fill="none" stroke="#33699e" stroke-width="3.8"/><path d="M562.4 938H591.4M576.9 933V943" stroke="#33699e" stroke-width="2.8" fill="none"/><circle cx="576.9" cy="938" r="7.6" fill="none" stroke="#33699e" stroke-width="3.8"/><path d="M652.6 938H681.6M667.1 933V943" stroke="#33699e" stroke-width="2.8" fill="none"/><circle cx="667.1" cy="938" r="7.6" fill="none" stroke="#33699e" stroke-width="3.8"/><path d="M742.7 938H771.7M757.2 933V943" stroke="#33699e" stroke-width="2.8" fill="none"/><circle cx="757.2" cy="938" r="7.6" fill="none" stroke="#33699e" stroke-width="3.8"/><path d="M832.8 937.7H861.8M847.3 932.7V942.7" stroke="#33699e" stroke-width="2.8" fill="none"/><circle cx="847.3" cy="937.7" r="7.6" fill="none" stroke="#33699e" stroke-width="3.8"/><path d="M923 937.5H952M937.5 932.5V942.5" stroke="#33699e" stroke-width="2.8" fill="none"/><circle cx="937.5" cy="937.5" r="7.6" fill="none" stroke="#33699e" stroke-width="3.8"/><path d="M1013.1 937.2H1042.1M1027.6 932.2V942.2" stroke="#33699e" stroke-width="2.8" fill="none"/><circle cx="1027.6" cy="937.2" r="7.6" fill="none" stroke="#33699e" stroke-width="3.8"/><path d="M1103.3 937H1132.3M1117.8 932V942" stroke="#33699e" stroke-width="2.8" fill="none"/><circle cx="1117.8" cy="937" r="7.6" fill="none" stroke="#33699e" stroke-width="3.8"/><path d="M1193.4 936.7H1222.4M1207.9 931.7V941.7" stroke="#33699e" stroke-width="2.8" fill="none"/><circle cx="1207.9" cy="936.7" r="7.6" fill="none" stroke="#33699e" stroke-width="3.8"/><path d="M1283.5 934.8H1312.5M1298 929.8V939.8" stroke="#33699e" stroke-width="2.8" fill="none"/><circle cx="1298" cy="934.8" r="7.6" fill="none" stroke="#33699e" stroke-width="3.8"/><path d="M1373.7 933H1402.7M1388.2 928V938" stroke="#33699e" stroke-width="2.8" fill="none"/><circle cx="1388.2" cy="933" r="7.6" fill="none" stroke="#33699e" stroke-width="3.8"/><path d="M1463.8 931.5H1492.8M1478.3 926.5V936.5" stroke="#33699e" stroke-width="2.8" fill="none"/><circle cx="1478.3" cy="931.5" r="7.6" fill="none" stroke="#33699e" stroke-width="3.8"/><path d="M1554 924.9H1583M1568.5 919.9V929.9" stroke="#33699e" stroke-width="2.8" fill="none"/><circle cx="1568.5" cy="924.9" r="7.6" fill="none" stroke="#33699e" stroke-width="3.8"/><path d="M1644.1 901.5H1673.1M1658.6 896.5V906.5" stroke="#33699e" stroke-width="2.8" fill="none"/><circle cx="1658.6" cy="901.5" r="7.6" fill="none" stroke="#33699e" stroke-width="3.8"/><path d="M1734.2 784.4H1763.2M1748.7 779.4V789.4" stroke="#33699e" stroke-width="2.8" fill="none"/><circle cx="1748.7" cy="784.4" r="7.6" fill="none" stroke="#33699e" stroke-width="3.8"/><path d="M1824.4 595H1853.4M1838.9 590V600" stroke="#33699e" stroke-width="2.8" fill="none"/><circle cx="1838.9" cy="595" r="7.6" fill="none" stroke="#33699e" stroke-width="3.8"/><path d="M1914.5 581H1943.5M1929 576V586" stroke="#33699e" stroke-width="2.8" fill="none"/><circle cx="1929" cy="581" r="7.6" fill="none" stroke="#33699e" stroke-width="3.8"/><path d="M2004.7 607H2033.7M2019.2 602V612" stroke="#33699e" stroke-width="2.8" fill="none"/><circle cx="2019.2" cy="607" r="7.6" fill="none" stroke="#33699e" stroke-width="3.8"/><path d="M2094.8 672H2123.8M2109.3 667V677" stroke="#33699e" stroke-width="2.8" fill="none"/><circle cx="2109.3" cy="672" r="7.6" fill="none" stroke="#33699e" stroke-width="3.8"/>
<path d="M292 901.5H321M292 910.5H321M306.5 901.5V910.5" stroke="#fdc010" stroke-width="2.4" fill="none"/><polygon points="306.5,895.2 315.9,911.4 297.1,911.4" fill="none" stroke="#fdc010" stroke-width="3.8" stroke-linejoin="miter"/><path d="M382.1 901H411.1M382.1 910H411.1M396.6 901V910" stroke="#fdc010" stroke-width="2.4" fill="none"/><polygon points="396.6,894.7 406,910.9 387.3,910.9" fill="none" stroke="#fdc010" stroke-width="3.8" stroke-linejoin="miter"/><path d="M472.3 901H501.3M472.3 910H501.3M486.8 901V910" stroke="#fdc010" stroke-width="2.4" fill="none"/><polygon points="486.8,894.7 496.1,910.9 477.4,910.9" fill="none" stroke="#fdc010" stroke-width="3.8" stroke-linejoin="miter"/><path d="M562.4 901H591.4M562.4 910H591.4M576.9 901V910" stroke="#fdc010" stroke-width="2.4" fill="none"/><polygon points="576.9,894.7 586.3,910.9 567.6,910.9" fill="none" stroke="#fdc010" stroke-width="3.8" stroke-linejoin="miter"/><path d="M652.6 901H681.6M652.6 910H681.6M667.1 901V910" stroke="#fdc010" stroke-width="2.4" fill="none"/><polygon points="667.1,894.7 676.4,910.9 657.7,910.9" fill="none" stroke="#fdc010" stroke-width="3.8" stroke-linejoin="miter"/><path d="M742.7 901H771.7M742.7 910H771.7M757.2 901V910" stroke="#fdc010" stroke-width="2.4" fill="none"/><polygon points="757.2,894.7 766.6,910.9 747.8,910.9" fill="none" stroke="#fdc010" stroke-width="3.8" stroke-linejoin="miter"/><path d="M832.8 900.4H861.8M832.8 909.4H861.8M847.3 900.4V909.4" stroke="#fdc010" stroke-width="2.4" fill="none"/><polygon points="847.3,894.1 856.7,910.3 838,910.3" fill="none" stroke="#fdc010" stroke-width="3.8" stroke-linejoin="miter"/><path d="M923 899.8H952M923 908.8H952M937.5 899.8V908.8" stroke="#fdc010" stroke-width="2.4" fill="none"/><polygon points="937.5,893.5 946.8,909.7 928.1,909.7" fill="none" stroke="#fdc010" stroke-width="3.8" stroke-linejoin="miter"/><path d="M1013.1 899.2H1042.1M1013.1 908.2H1042.1M1027.6 899.2V908.2" stroke="#fdc010" stroke-width="2.4" fill="none"/><polygon points="1027.6,892.9 1037,909.1 1018.3,909.1" fill="none" stroke="#fdc010" stroke-width="3.8" stroke-linejoin="miter"/><path d="M1103.3 898.6H1132.3M1103.3 907.6H1132.3M1117.8 898.6V907.6" stroke="#fdc010" stroke-width="2.4" fill="none"/><polygon points="1117.8,892.3 1127.1,908.5 1108.4,908.5" fill="none" stroke="#fdc010" stroke-width="3.8" stroke-linejoin="miter"/><path d="M1193.4 898H1222.4M1193.4 907H1222.4M1207.9 898V907" stroke="#fdc010" stroke-width="2.4" fill="none"/><polygon points="1207.9,891.7 1217.3,907.9 1198.5,907.9" fill="none" stroke="#fdc010" stroke-width="3.8" stroke-linejoin="miter"/><path d="M1283.5 895H1312.5M1283.5 904H1312.5M1298 895V904" stroke="#fdc010" stroke-width="2.4" fill="none"/><polygon points="1298,888.7 1307.4,904.9 1288.7,904.9" fill="none" stroke="#fdc010" stroke-width="3.8" stroke-linejoin="miter"/><path d="M1373.7 893.9H1402.7M1373.7 902.9H1402.7M1388.2 893.9V902.9" stroke="#fdc010" stroke-width="2.4" fill="none"/><polygon points="1388.2,887.6 1397.5,903.8 1378.8,903.8" fill="none" stroke="#fdc010" stroke-width="3.8" stroke-linejoin="miter"/><path d="M1463.8 892.8H1492.8M1463.8 901.8H1492.8M1478.3 892.8V901.8" stroke="#fdc010" stroke-width="2.4" fill="none"/><polygon points="1478.3,886.5 1487.7,902.7 1469,902.7" fill="none" stroke="#fdc010" stroke-width="3.8" stroke-linejoin="miter"/><path d="M1554 889.5H1583M1554 898.5H1583M1568.5 889.5V898.5" stroke="#fdc010" stroke-width="2.4" fill="none"/><polygon points="1568.5,883.2 1577.8,899.4 1559.1,899.4" fill="none" stroke="#fdc010" stroke-width="3.8" stroke-linejoin="miter"/><path d="M1644.1 870H1673.1M1644.1 875H1673.1M1658.6 870V875" stroke="#fdc010" stroke-width="2.4" fill="none"/><polygon points="1658.6,861.7 1668,877.9 1649.2,877.9" fill="none" stroke="#fdc010" stroke-width="3.8" stroke-linejoin="miter"/><path d="M1734.2 807.3H1763.2M1734.2 812.3H1763.2M1748.7 807.3V812.3" stroke="#fdc010" stroke-width="2.4" fill="none"/><polygon points="1748.7,799 1758.1,815.2 1739.4,815.2" fill="none" stroke="#fdc010" stroke-width="3.8" stroke-linejoin="miter"/><path d="M1824.4 618H1853.4M1824.4 623H1853.4M1838.9 618V623" stroke="#fdc010" stroke-width="2.4" fill="none"/><polygon points="1838.9,609.7 1848.2,625.9 1829.5,625.9" fill="none" stroke="#fdc010" stroke-width="3.8" stroke-linejoin="miter"/><path d="M1914.5 533.5H1943.5M1914.5 538.5H1943.5M1929 533.5V538.5" stroke="#fdc010" stroke-width="2.4" fill="none"/><polygon points="1929,525.2 1938.4,541.4 1919.7,541.4" fill="none" stroke="#fdc010" stroke-width="3.8" stroke-linejoin="miter"/><path d="M2004.7 562.5H2033.7M2004.7 567.5H2033.7M2019.2 562.5V567.5" stroke="#fdc010" stroke-width="2.4" fill="none"/><polygon points="2019.2,554.2 2028.5,570.4 2009.8,570.4" fill="none" stroke="#fdc010" stroke-width="3.8" stroke-linejoin="miter"/><path d="M2094.8 622.5H2123.8M2094.8 627.5H2123.8M2109.3 622.5V627.5" stroke="#fdc010" stroke-width="2.4" fill="none"/><polygon points="2109.3,614.2 2118.7,630.4 2099.9,630.4" fill="none" stroke="#fdc010" stroke-width="3.8" stroke-linejoin="miter"/>
<path d="M292 891.5H321M292 900.5H321M306.5 891.5V900.5" stroke="#33c46d" stroke-width="2.4" fill="none"/><polygon points="306.5,906.8 315.9,890.6 297.1,890.6" fill="none" stroke="#33c46d" stroke-width="3.8" stroke-linejoin="miter"/><path d="M382.1 891.1H411.1M382.1 900.1H411.1M396.6 891.1V900.1" stroke="#33c46d" stroke-width="2.4" fill="none"/><polygon points="396.6,906.4 406,890.2 387.3,890.2" fill="none" stroke="#33c46d" stroke-width="3.8" stroke-linejoin="miter"/><path d="M472.3 890.8H501.3M472.3 899.8H501.3M486.8 890.8V899.8" stroke="#33c46d" stroke-width="2.4" fill="none"/><polygon points="486.8,906.1 496.1,889.9 477.4,889.9" fill="none" stroke="#33c46d" stroke-width="3.8" stroke-linejoin="miter"/><path d="M562.4 890.5H591.4M562.4 899.5H591.4M576.9 890.5V899.5" stroke="#33c46d" stroke-width="2.4" fill="none"/><polygon points="576.9,905.8 586.3,889.6 567.6,889.6" fill="none" stroke="#33c46d" stroke-width="3.8" stroke-linejoin="miter"/><path d="M652.6 890.3H681.6M652.6 899.3H681.6M667.1 890.3V899.3" stroke="#33c46d" stroke-width="2.4" fill="none"/><polygon points="667.1,905.6 676.4,889.4 657.7,889.4" fill="none" stroke="#33c46d" stroke-width="3.8" stroke-linejoin="miter"/><path d="M742.7 890H771.7M742.7 899H771.7M757.2 890V899" stroke="#33c46d" stroke-width="2.4" fill="none"/><polygon points="757.2,905.3 766.6,889.1 747.8,889.1" fill="none" stroke="#33c46d" stroke-width="3.8" stroke-linejoin="miter"/><path d="M832.8 889.5H861.8M832.8 898.5H861.8M847.3 889.5V898.5" stroke="#33c46d" stroke-width="2.4" fill="none"/><polygon points="847.3,904.8 856.7,888.6 838,888.6" fill="none" stroke="#33c46d" stroke-width="3.8" stroke-linejoin="miter"/><path d="M923 889H952M923 898H952M937.5 889V898" stroke="#33c46d" stroke-width="2.4" fill="none"/><polygon points="937.5,904.3 946.8,888.1 928.1,888.1" fill="none" stroke="#33c46d" stroke-width="3.8" stroke-linejoin="miter"/><path d="M1013.1 888.5H1042.1M1013.1 897.5H1042.1M1027.6 888.5V897.5" stroke="#33c46d" stroke-width="2.4" fill="none"/><polygon points="1027.6,903.8 1037,887.6 1018.3,887.6" fill="none" stroke="#33c46d" stroke-width="3.8" stroke-linejoin="miter"/><path d="M1103.3 888H1132.3M1103.3 897H1132.3M1117.8 888V897" stroke="#33c46d" stroke-width="2.4" fill="none"/><polygon points="1117.8,903.3 1127.1,887.1 1108.4,887.1" fill="none" stroke="#33c46d" stroke-width="3.8" stroke-linejoin="miter"/><path d="M1193.4 887.5H1222.4M1193.4 896.5H1222.4M1207.9 887.5V896.5" stroke="#33c46d" stroke-width="2.4" fill="none"/><polygon points="1207.9,902.8 1217.3,886.6 1198.5,886.6" fill="none" stroke="#33c46d" stroke-width="3.8" stroke-linejoin="miter"/><path d="M1283.5 885.1H1312.5M1283.5 894.1H1312.5M1298 885.1V894.1" stroke="#33c46d" stroke-width="2.4" fill="none"/><polygon points="1298,900.4 1307.4,884.2 1288.7,884.2" fill="none" stroke="#33c46d" stroke-width="3.8" stroke-linejoin="miter"/><path d="M1373.7 884H1402.7M1373.7 893H1402.7M1388.2 884V893" stroke="#33c46d" stroke-width="2.4" fill="none"/><polygon points="1388.2,899.3 1397.5,883.1 1378.8,883.1" fill="none" stroke="#33c46d" stroke-width="3.8" stroke-linejoin="miter"/><path d="M1463.8 882.9H1492.8M1463.8 891.9H1492.8M1478.3 882.9V891.9" stroke="#33c46d" stroke-width="2.4" fill="none"/><polygon points="1478.3,898.2 1487.7,882 1469,882" fill="none" stroke="#33c46d" stroke-width="3.8" stroke-linejoin="miter"/><path d="M1554 879.5H1583M1554 888.5H1583M1568.5 879.5V888.5" stroke="#33c46d" stroke-width="2.4" fill="none"/><polygon points="1568.5,894.8 1577.8,878.6 1559.1,878.6" fill="none" stroke="#33c46d" stroke-width="3.8" stroke-linejoin="miter"/><path d="M1644.1 881.5H1673.1M1644.1 886.5H1673.1M1658.6 881.5V886.5" stroke="#33c46d" stroke-width="2.4" fill="none"/><polygon points="1658.6,894.8 1668,878.6 1649.2,878.6" fill="none" stroke="#33c46d" stroke-width="3.8" stroke-linejoin="miter"/><path d="M1734.2 820.5H1763.2M1734.2 825.5H1763.2M1748.7 820.5V825.5" stroke="#33c46d" stroke-width="2.4" fill="none"/><polygon points="1748.7,833.8 1758.1,817.6 1739.4,817.6" fill="none" stroke="#33c46d" stroke-width="3.8" stroke-linejoin="miter"/><path d="M1824.4 643.3H1853.4M1824.4 648.3H1853.4M1838.9 643.3V648.3" stroke="#33c46d" stroke-width="2.4" fill="none"/><polygon points="1838.9,656.6 1848.2,640.4 1829.5,640.4" fill="none" stroke="#33c46d" stroke-width="3.8" stroke-linejoin="miter"/><path d="M1914.5 541.5H1943.5M1914.5 546.5H1943.5M1929 541.5V546.5" stroke="#33c46d" stroke-width="2.4" fill="none"/><polygon points="1929,554.8 1938.4,538.6 1919.7,538.6" fill="none" stroke="#33c46d" stroke-width="3.8" stroke-linejoin="miter"/><path d="M2004.7 583.5H2033.7M2004.7 588.5H2033.7M2019.2 583.5V588.5" stroke="#33c46d" stroke-width="2.4" fill="none"/><polygon points="2019.2,596.8 2028.5,580.6 2009.8,580.6" fill="none" stroke="#33c46d" stroke-width="3.8" stroke-linejoin="miter"/><path d="M2094.8 643.5H2123.8M2094.8 648.5H2123.8M2109.3 643.5V648.5" stroke="#33c46d" stroke-width="2.4" fill="none"/><polygon points="2109.3,656.8 2118.7,640.6 2099.9,640.6" fill="none" stroke="#33c46d" stroke-width="3.8" stroke-linejoin="miter"/>
<path d="M292 871H321M292 879H321M306.5 871V879" stroke="#6e6ea9" stroke-width="2.4" fill="none"/><polygon points="306.5,865.3 316.2,875 306.5,884.7 296.8,875" fill="none" stroke="#6e6ea9" stroke-width="3.8" stroke-linejoin="miter"/><path d="M382.1 870.6H411.1M382.1 878.6H411.1M396.6 870.6V878.6" stroke="#6e6ea9" stroke-width="2.4" fill="none"/><polygon points="396.6,864.9 406.3,874.6 396.6,884.3 386.9,874.6" fill="none" stroke="#6e6ea9" stroke-width="3.8" stroke-linejoin="miter"/><path d="M472.3 870.6H501.3M472.3 878.6H501.3M486.8 870.6V878.6" stroke="#6e6ea9" stroke-width="2.4" fill="none"/><polygon points="486.8,864.9 496.5,874.6 486.8,884.3 477.1,874.6" fill="none" stroke="#6e6ea9" stroke-width="3.8" stroke-linejoin="miter"/><path d="M562.4 870.6H591.4M562.4 878.6H591.4M576.9 870.6V878.6" stroke="#6e6ea9" stroke-width="2.4" fill="none"/><polygon points="576.9,864.9 586.6,874.6 576.9,884.3 567.2,874.6" fill="none" stroke="#6e6ea9" stroke-width="3.8" stroke-linejoin="miter"/><path d="M652.6 870.6H681.6M652.6 878.6H681.6M667.1 870.6V878.6" stroke="#6e6ea9" stroke-width="2.4" fill="none"/><polygon points="667.1,864.9 676.8,874.6 667.1,884.3 657.4,874.6" fill="none" stroke="#6e6ea9" stroke-width="3.8" stroke-linejoin="miter"/><path d="M742.7 870.6H771.7M742.7 878.6H771.7M757.2 870.6V878.6" stroke="#6e6ea9" stroke-width="2.4" fill="none"/><polygon points="757.2,864.9 766.9,874.6 757.2,884.3 747.5,874.6" fill="none" stroke="#6e6ea9" stroke-width="3.8" stroke-linejoin="miter"/><path d="M832.8 870.2H861.8M832.8 878.2H861.8M847.3 870.2V878.2" stroke="#6e6ea9" stroke-width="2.4" fill="none"/><polygon points="847.3,864.5 857,874.2 847.3,883.9 837.6,874.2" fill="none" stroke="#6e6ea9" stroke-width="3.8" stroke-linejoin="miter"/><path d="M923 869.8H952M923 877.8H952M937.5 869.8V877.8" stroke="#6e6ea9" stroke-width="2.4" fill="none"/><polygon points="937.5,864.1 947.2,873.8 937.5,883.5 927.8,873.8" fill="none" stroke="#6e6ea9" stroke-width="3.8" stroke-linejoin="miter"/><path d="M1013.1 869.3H1042.1M1013.1 877.3H1042.1M1027.6 869.3V877.3" stroke="#6e6ea9" stroke-width="2.4" fill="none"/><polygon points="1027.6,863.6 1037.3,873.3 1027.6,883 1017.9,873.3" fill="none" stroke="#6e6ea9" stroke-width="3.8" stroke-linejoin="miter"/><path d="M1103.3 868.9H1132.3M1103.3 876.9H1132.3M1117.8 868.9V876.9" stroke="#6e6ea9" stroke-width="2.4" fill="none"/><polygon points="1117.8,863.2 1127.5,872.9 1117.8,882.6 1108.1,872.9" fill="none" stroke="#6e6ea9" stroke-width="3.8" stroke-linejoin="miter"/><path d="M1193.4 868.5H1222.4M1193.4 876.5H1222.4M1207.9 868.5V876.5" stroke="#6e6ea9" stroke-width="2.4" fill="none"/><polygon points="1207.9,862.8 1217.6,872.5 1207.9,882.2 1198.2,872.5" fill="none" stroke="#6e6ea9" stroke-width="3.8" stroke-linejoin="miter"/><path d="M1283.5 866H1312.5M1283.5 874H1312.5M1298 866V874" stroke="#6e6ea9" stroke-width="2.4" fill="none"/><polygon points="1298,860.3 1307.7,870 1298,879.7 1288.3,870" fill="none" stroke="#6e6ea9" stroke-width="3.8" stroke-linejoin="miter"/><path d="M1373.7 864.7H1402.7M1373.7 872.7H1402.7M1388.2 864.7V872.7" stroke="#6e6ea9" stroke-width="2.4" fill="none"/><polygon points="1388.2,859 1397.9,868.7 1388.2,878.4 1378.5,868.7" fill="none" stroke="#6e6ea9" stroke-width="3.8" stroke-linejoin="miter"/><path d="M1463.8 862.4H1492.8M1463.8 870.4H1492.8M1478.3 862.4V870.4" stroke="#6e6ea9" stroke-width="2.4" fill="none"/><polygon points="1478.3,856.7 1488,866.4 1478.3,876.1 1468.6,866.4" fill="none" stroke="#6e6ea9" stroke-width="3.8" stroke-linejoin="miter"/><path d="M1554 857H1583M1554 865H1583M1568.5 857V865" stroke="#6e6ea9" stroke-width="2.4" fill="none"/><polygon points="1568.5,851.3 1578.2,861 1568.5,870.7 1558.8,861" fill="none" stroke="#6e6ea9" stroke-width="3.8" stroke-linejoin="miter"/><path d="M1644.1 837.5H1673.1M1644.1 842.5H1673.1M1658.6 837.5V842.5" stroke="#6e6ea9" stroke-width="2.4" fill="none"/><polygon points="1658.6,830.3 1668.3,840 1658.6,849.7 1648.9,840" fill="none" stroke="#6e6ea9" stroke-width="3.8" stroke-linejoin="miter"/><path d="M1734.2 738.9H1763.2M1734.2 743.9H1763.2M1748.7 738.9V743.9" stroke="#6e6ea9" stroke-width="2.4" fill="none"/><polygon points="1748.7,731.7 1758.4,741.4 1748.7,751.1 1739,741.4" fill="none" stroke="#6e6ea9" stroke-width="3.8" stroke-linejoin="miter"/><path d="M1824.4 584.5H1853.4M1824.4 589.5H1853.4M1838.9 584.5V589.5" stroke="#6e6ea9" stroke-width="2.4" fill="none"/><polygon points="1838.9,577.3 1848.6,587 1838.9,596.7 1829.2,587" fill="none" stroke="#6e6ea9" stroke-width="3.8" stroke-linejoin="miter"/><path d="M1914.5 521.5H1943.5M1914.5 526.5H1943.5M1929 521.5V526.5" stroke="#6e6ea9" stroke-width="2.4" fill="none"/><polygon points="1929,514.3 1938.7,524 1929,533.7 1919.3,524" fill="none" stroke="#6e6ea9" stroke-width="3.8" stroke-linejoin="miter"/><path d="M2004.7 587.5H2033.7M2004.7 592.5H2033.7M2019.2 587.5V592.5" stroke="#6e6ea9" stroke-width="2.4" fill="none"/><polygon points="2019.2,580.3 2028.9,590 2019.2,599.7 2009.5,590" fill="none" stroke="#6e6ea9" stroke-width="3.8" stroke-linejoin="miter"/><path d="M2094.8 634.5H2123.8M2094.8 639.5H2123.8M2109.3 634.5V639.5" stroke="#6e6ea9" stroke-width="2.4" fill="none"/><polygon points="2109.3,627.3 2119,637 2109.3,646.7 2099.6,637" fill="none" stroke="#6e6ea9" stroke-width="3.8" stroke-linejoin="miter"/>
<path d="M292 850.5H321M292 857.5H321M306.5 850.5V857.5" stroke="#969696" stroke-width="2.4" fill="none"/><polygon points="296.2,854 312.5,845.1 312.5,862.9" fill="none" stroke="#969696" stroke-width="3.8" stroke-linejoin="miter"/><path d="M382.1 850.2H411.1M382.1 857.2H411.1M396.6 850.2V857.2" stroke="#969696" stroke-width="2.4" fill="none"/><polygon points="386.3,853.7 402.6,844.8 402.6,862.6" fill="none" stroke="#969696" stroke-width="3.8" stroke-linejoin="miter"/><path d="M472.3 849.9H501.3M472.3 856.9H501.3M486.8 849.9V856.9" stroke="#969696" stroke-width="2.4" fill="none"/><polygon points="476.5,853.4 492.8,844.5 492.8,862.3" fill="none" stroke="#969696" stroke-width="3.8" stroke-linejoin="miter"/><path d="M562.4 849.7H591.4M562.4 856.7H591.4M576.9 849.7V856.7" stroke="#969696" stroke-width="2.4" fill="none"/><polygon points="566.6,853.2 582.9,844.2 582.9,862.1" fill="none" stroke="#969696" stroke-width="3.8" stroke-linejoin="miter"/><path d="M652.6 849.4H681.6M652.6 856.4H681.6M667.1 849.4V856.4" stroke="#969696" stroke-width="2.4" fill="none"/><polygon points="656.8,852.9 673,844 673,861.8" fill="none" stroke="#969696" stroke-width="3.8" stroke-linejoin="miter"/><path d="M742.7 849.1H771.7M742.7 856.1H771.7M757.2 849.1V856.1" stroke="#969696" stroke-width="2.4" fill="none"/><polygon points="746.9,852.6 763.2,843.7 763.2,861.5" fill="none" stroke="#969696" stroke-width="3.8" stroke-linejoin="miter"/><path d="M832.8 848.9H861.8M832.8 855.9H861.8M847.3 848.9V855.9" stroke="#969696" stroke-width="2.4" fill="none"/><polygon points="837,852.4 853.3,843.5 853.3,861.3" fill="none" stroke="#969696" stroke-width="3.8" stroke-linejoin="miter"/><path d="M923 848.7H952M923 855.7H952M937.5 848.7V855.7" stroke="#969696" stroke-width="2.4" fill="none"/><polygon points="927.2,852.2 943.5,843.3 943.5,861.2" fill="none" stroke="#969696" stroke-width="3.8" stroke-linejoin="miter"/><path d="M1013.1 848.6H1042.1M1013.1 855.6H1042.1M1027.6 848.6V855.6" stroke="#969696" stroke-width="2.4" fill="none"/><polygon points="1017.3,852.1 1033.6,843.1 1033.6,861" fill="none" stroke="#969696" stroke-width="3.8" stroke-linejoin="miter"/><path d="M1103.3 848.4H1132.3M1103.3 855.4H1132.3M1117.8 848.4V855.4" stroke="#969696" stroke-width="2.4" fill="none"/><polygon points="1107.5,851.9 1123.7,843 1123.7,860.8" fill="none" stroke="#969696" stroke-width="3.8" stroke-linejoin="miter"/><path d="M1193.4 848.2H1222.4M1193.4 855.2H1222.4M1207.9 848.2V855.2" stroke="#969696" stroke-width="2.4" fill="none"/><polygon points="1197.6,851.7 1213.9,842.8 1213.9,860.6" fill="none" stroke="#969696" stroke-width="3.8" stroke-linejoin="miter"/><path d="M1283.5 846.5H1312.5M1283.5 853.5H1312.5M1298 846.5V853.5" stroke="#969696" stroke-width="2.4" fill="none"/><polygon points="1287.7,850 1304,841.1 1304,858.9" fill="none" stroke="#969696" stroke-width="3.8" stroke-linejoin="miter"/><path d="M1373.7 845.5H1402.7M1373.7 852.5H1402.7M1388.2 845.5V852.5" stroke="#969696" stroke-width="2.4" fill="none"/><polygon points="1377.9,849 1394.2,840.1 1394.2,857.9" fill="none" stroke="#969696" stroke-width="3.8" stroke-linejoin="miter"/><path d="M1463.8 843.1H1492.8M1463.8 850.1H1492.8M1478.3 843.1V850.1" stroke="#969696" stroke-width="2.4" fill="none"/><polygon points="1468,846.6 1484.3,837.7 1484.3,855.5" fill="none" stroke="#969696" stroke-width="3.8" stroke-linejoin="miter"/><path d="M1554 839.8H1583M1554 846.8H1583M1568.5 839.8V846.8" stroke="#969696" stroke-width="2.4" fill="none"/><polygon points="1558.2,843.3 1574.4,834.4 1574.4,852.2" fill="none" stroke="#969696" stroke-width="3.8" stroke-linejoin="miter"/><path d="M1644.1 826.5H1673.1M1644.1 831.5H1673.1M1658.6 826.5V831.5" stroke="#969696" stroke-width="2.4" fill="none"/><polygon points="1648.3,829 1664.6,820.1 1664.6,837.9" fill="none" stroke="#969696" stroke-width="3.8" stroke-linejoin="miter"/><path d="M1734.2 770.3H1763.2M1734.2 775.3H1763.2M1748.7 770.3V775.3" stroke="#969696" stroke-width="2.4" fill="none"/><polygon points="1738.4,772.8 1754.7,763.9 1754.7,781.7" fill="none" stroke="#969696" stroke-width="3.8" stroke-linejoin="miter"/><path d="M1824.4 603.5H1853.4M1824.4 608.5H1853.4M1838.9 603.5V608.5" stroke="#969696" stroke-width="2.4" fill="none"/><polygon points="1828.6,606 1844.9,597.1 1844.9,614.9" fill="none" stroke="#969696" stroke-width="3.8" stroke-linejoin="miter"/><path d="M1914.5 513.5H1943.5M1914.5 518.5H1943.5M1929 513.5V518.5" stroke="#969696" stroke-width="2.4" fill="none"/><polygon points="1918.7,516 1935,507.1 1935,524.9" fill="none" stroke="#969696" stroke-width="3.8" stroke-linejoin="miter"/><path d="M2004.7 541.5H2033.7M2004.7 546.5H2033.7M2019.2 541.5V546.5" stroke="#969696" stroke-width="2.4" fill="none"/><polygon points="2008.9,544 2025.1,535.1 2025.1,552.9" fill="none" stroke="#969696" stroke-width="3.8" stroke-linejoin="miter"/><path d="M2094.8 600.5H2123.8M2094.8 605.5H2123.8M2109.3 600.5V605.5" stroke="#969696" stroke-width="2.4" fill="none"/><polygon points="2099,603 2115.3,594.1 2115.3,611.9" fill="none" stroke="#969696" stroke-width="3.8" stroke-linejoin="miter"/>
<path d="M292 854H321M292 862H321M306.5 854V862" stroke="#fa6068" stroke-width="2.4" fill="none"/><polygon points="316.8,858 300.5,849.1 300.5,866.9" fill="none" stroke="#fa6068" stroke-width="3.8" stroke-linejoin="miter"/><path d="M382.1 854H411.1M382.1 862H411.1M396.6 854V862" stroke="#fa6068" stroke-width="2.4" fill="none"/><polygon points="406.9,858 390.7,849.1 390.7,866.9" fill="none" stroke="#fa6068" stroke-width="3.8" stroke-linejoin="miter"/><path d="M472.3 853.8H501.3M472.3 861.8H501.3M486.8 853.8V861.8" stroke="#fa6068" stroke-width="2.4" fill="none"/><polygon points="497.1,857.8 480.8,848.8 480.8,866.7" fill="none" stroke="#fa6068" stroke-width="3.8" stroke-linejoin="miter"/><path d="M562.4 853.5H591.4M562.4 861.5H591.4M576.9 853.5V861.5" stroke="#fa6068" stroke-width="2.4" fill="none"/><polygon points="587.2,857.5 570.9,848.6 570.9,866.4" fill="none" stroke="#fa6068" stroke-width="3.8" stroke-linejoin="miter"/><path d="M652.6 853.2H681.6M652.6 861.2H681.6M667.1 853.2V861.2" stroke="#fa6068" stroke-width="2.4" fill="none"/><polygon points="677.4,857.2 661.1,848.3 661.1,866.2" fill="none" stroke="#fa6068" stroke-width="3.8" stroke-linejoin="miter"/><path d="M742.7 853H771.7M742.7 861H771.7M757.2 853V861" stroke="#fa6068" stroke-width="2.4" fill="none"/><polygon points="767.5,857 751.2,848.1 751.2,865.9" fill="none" stroke="#fa6068" stroke-width="3.8" stroke-linejoin="miter"/><path d="M832.8 852.7H861.8M832.8 860.7H861.8M847.3 852.7V860.7" stroke="#fa6068" stroke-width="2.4" fill="none"/><polygon points="857.6,856.7 841.4,847.8 841.4,865.6" fill="none" stroke="#fa6068" stroke-width="3.8" stroke-linejoin="miter"/><path d="M923 852.4H952M923 860.4H952M937.5 852.4V860.4" stroke="#fa6068" stroke-width="2.4" fill="none"/><polygon points="947.8,856.4 931.5,847.5 931.5,865.3" fill="none" stroke="#fa6068" stroke-width="3.8" stroke-linejoin="miter"/><path d="M1013.1 852.1H1042.1M1013.1 860.1H1042.1M1027.6 852.1V860.1" stroke="#fa6068" stroke-width="2.4" fill="none"/><polygon points="1037.9,856.1 1021.6,847.2 1021.6,865" fill="none" stroke="#fa6068" stroke-width="3.8" stroke-linejoin="miter"/><path d="M1103.3 851.8H1132.3M1103.3 859.8H1132.3M1117.8 851.8V859.8" stroke="#fa6068" stroke-width="2.4" fill="none"/><polygon points="1128.1,855.8 1111.8,846.9 1111.8,864.7" fill="none" stroke="#fa6068" stroke-width="3.8" stroke-linejoin="miter"/><path d="M1193.4 851.5H1222.4M1193.4 859.5H1222.4M1207.9 851.5V859.5" stroke="#fa6068" stroke-width="2.4" fill="none"/><polygon points="1218.2,855.5 1201.9,846.6 1201.9,864.4" fill="none" stroke="#fa6068" stroke-width="3.8" stroke-linejoin="miter"/><path d="M1283.5 848H1312.5M1283.5 856H1312.5M1298 848V856" stroke="#fa6068" stroke-width="2.4" fill="none"/><polygon points="1308.3,852 1292.1,843.1 1292.1,860.9" fill="none" stroke="#fa6068" stroke-width="3.8" stroke-linejoin="miter"/><path d="M1373.7 847H1402.7M1373.7 855H1402.7M1388.2 847V855" stroke="#fa6068" stroke-width="2.4" fill="none"/><polygon points="1398.5,851 1382.2,842.1 1382.2,859.9" fill="none" stroke="#fa6068" stroke-width="3.8" stroke-linejoin="miter"/><path d="M1463.8 846H1492.8M1463.8 854H1492.8M1478.3 846V854" stroke="#fa6068" stroke-width="2.4" fill="none"/><polygon points="1488.6,850 1472.3,841.1 1472.3,858.9" fill="none" stroke="#fa6068" stroke-width="3.8" stroke-linejoin="miter"/><path d="M1554 842.6H1583M1554 850.6H1583M1568.5 842.6V850.6" stroke="#fa6068" stroke-width="2.4" fill="none"/><polygon points="1578.8,846.6 1562.5,837.7 1562.5,855.5" fill="none" stroke="#fa6068" stroke-width="3.8" stroke-linejoin="miter"/><path d="M1644.1 829.5H1673.1M1644.1 834.5H1673.1M1658.6 829.5V834.5" stroke="#fa6068" stroke-width="2.4" fill="none"/><polygon points="1668.9,832 1652.6,823.1 1652.6,840.9" fill="none" stroke="#fa6068" stroke-width="3.8" stroke-linejoin="miter"/><path d="M1734.2 796.2H1763.2M1734.2 801.2H1763.2M1748.7 796.2V801.2" stroke="#fa6068" stroke-width="2.4" fill="none"/><polygon points="1759,798.7 1742.8,789.8 1742.8,807.6" fill="none" stroke="#fa6068" stroke-width="3.8" stroke-linejoin="miter"/><path d="M1824.4 580.5H1853.4M1824.4 585.5H1853.4M1838.9 580.5V585.5" stroke="#fa6068" stroke-width="2.4" fill="none"/><polygon points="1849.2,583 1832.9,574.1 1832.9,591.9" fill="none" stroke="#fa6068" stroke-width="3.8" stroke-linejoin="miter"/><path d="M1914.5 565.5H1943.5M1914.5 570.5H1943.5M1929 565.5V570.5" stroke="#fa6068" stroke-width="2.4" fill="none"/><polygon points="1939.3,568 1923,559.1 1923,576.9" fill="none" stroke="#fa6068" stroke-width="3.8" stroke-linejoin="miter"/><path d="M2004.7 569.5H2033.7M2004.7 574.5H2033.7M2019.2 569.5V574.5" stroke="#fa6068" stroke-width="2.4" fill="none"/><polygon points="2029.5,572 2013.2,563.1 2013.2,580.9" fill="none" stroke="#fa6068" stroke-width="3.8" stroke-linejoin="miter"/><path d="M2094.8 605.5H2123.8M2094.8 610.5H2123.8M2109.3 605.5V610.5" stroke="#fa6068" stroke-width="2.4" fill="none"/><polygon points="2119.6,608 2103.3,599.1 2103.3,616.9" fill="none" stroke="#fa6068" stroke-width="3.8" stroke-linejoin="miter"/>
<polygon points="306.5,856.7 314.6,861.4 314.6,870.6 306.5,875.3 298.4,870.6 298.4,861.4" fill="none" stroke="#6699d0" stroke-width="3.8" stroke-linejoin="miter"/><polygon points="396.6,856.5 404.7,861.1 404.7,870.4 396.6,875.1 388.6,870.4 388.6,861.1" fill="none" stroke="#6699d0" stroke-width="3.8" stroke-linejoin="miter"/><polygon points="486.8,856.5 494.8,861.2 494.8,870.5 486.8,875.1 478.7,870.5 478.7,861.2" fill="none" stroke="#6699d0" stroke-width="3.8" stroke-linejoin="miter"/><polygon points="576.9,856.6 585,861.2 585,870.5 576.9,875.2 568.9,870.5 568.9,861.2" fill="none" stroke="#6699d0" stroke-width="3.8" stroke-linejoin="miter"/><polygon points="667.1,856.7 675.1,861.3 675.1,870.6 667.1,875.2 659,870.6 659,861.3" fill="none" stroke="#6699d0" stroke-width="3.8" stroke-linejoin="miter"/><polygon points="757.2,856.7 765.3,861.4 765.3,870.6 757.2,875.3 749.1,870.6 749.1,861.4" fill="none" stroke="#6699d0" stroke-width="3.8" stroke-linejoin="miter"/><polygon points="847.3,856.5 855.4,861.1 855.4,870.4 847.3,875.1 839.3,870.4 839.3,861.1" fill="none" stroke="#6699d0" stroke-width="3.8" stroke-linejoin="miter"/><polygon points="937.5,856.2 945.5,860.9 945.5,870.2 937.5,874.8 929.4,870.2 929.4,860.9" fill="none" stroke="#6699d0" stroke-width="3.8" stroke-linejoin="miter"/><polygon points="1027.6,856 1035.7,860.6 1035.7,869.9 1027.6,874.6 1019.6,869.9 1019.6,860.6" fill="none" stroke="#6699d0" stroke-width="3.8" stroke-linejoin="miter"/><polygon points="1117.8,855.7 1125.8,860.4 1125.8,869.7 1117.8,874.3 1109.7,869.7 1109.7,860.4" fill="none" stroke="#6699d0" stroke-width="3.8" stroke-linejoin="miter"/><polygon points="1207.9,855.5 1216,860.1 1216,869.4 1207.9,874.1 1199.8,869.4 1199.8,860.1" fill="none" stroke="#6699d0" stroke-width="3.8" stroke-linejoin="miter"/><polygon points="1298,853.7 1306.1,858.4 1306.1,867.6 1298,872.3 1290,867.6 1290,858.4" fill="none" stroke="#6699d0" stroke-width="3.8" stroke-linejoin="miter"/><polygon points="1388.2,852.7 1396.2,857.4 1396.2,866.6 1388.2,871.3 1380.1,866.6 1380.1,857.4" fill="none" stroke="#6699d0" stroke-width="3.8" stroke-linejoin="miter"/><polygon points="1478.3,851.7 1486.4,856.4 1486.4,865.6 1478.3,870.3 1470.3,865.6 1470.3,856.4" fill="none" stroke="#6699d0" stroke-width="3.8" stroke-linejoin="miter"/><polygon points="1568.5,846.1 1576.5,850.8 1576.5,860 1568.5,864.7 1560.4,860 1560.4,850.8" fill="none" stroke="#6699d0" stroke-width="3.8" stroke-linejoin="miter"/><polygon points="1658.6,827.4 1666.7,832.1 1666.7,841.4 1658.6,846 1650.5,841.4 1650.5,832.1" fill="none" stroke="#6699d0" stroke-width="3.8" stroke-linejoin="miter"/><polygon points="1748.7,754.2 1756.8,758.9 1756.8,768.1 1748.7,772.8 1740.7,768.1 1740.7,758.9" fill="none" stroke="#6699d0" stroke-width="3.8" stroke-linejoin="miter"/><polygon points="1838.9,564.7 1846.9,569.4 1846.9,578.6 1838.9,583.3 1830.8,578.6 1830.8,569.4" fill="none" stroke="#6699d0" stroke-width="3.8" stroke-linejoin="miter"/><polygon points="1929,505.7 1937.1,510.4 1937.1,519.6 1929,524.3 1921,519.6 1921,510.4" fill="none" stroke="#6699d0" stroke-width="3.8" stroke-linejoin="miter"/><polygon points="2019.2,550.7 2027.2,555.4 2027.2,564.6 2019.2,569.3 2011.1,564.6 2011.1,555.4" fill="none" stroke="#6699d0" stroke-width="3.8" stroke-linejoin="miter"/><polygon points="2109.3,607.7 2117.4,612.4 2117.4,621.6 2109.3,626.3 2101.2,621.6 2101.2,612.4" fill="none" stroke="#6699d0" stroke-width="3.8" stroke-linejoin="miter"/>
<polygon points="306.5,812 308.8,816.6 313.9,817.4 310.2,821 311.1,826.1 306.5,823.7 301.9,826.1 302.8,821 299.1,817.4 304.2,816.6" fill="none" stroke="#c8640a" stroke-width="3.8" stroke-linejoin="miter"/><polygon points="396.6,811.4 398.9,816 404.1,816.8 400.3,820.4 401.2,825.5 396.6,823.1 392.1,825.5 392.9,820.4 389.2,816.8 394.3,816" fill="none" stroke="#c8640a" stroke-width="3.8" stroke-linejoin="miter"/><polygon points="486.8,811.8 489.1,816.4 494.2,817.2 490.5,820.8 491.4,825.9 486.8,823.5 482.2,825.9 483.1,820.8 479.4,817.2 484.5,816.4" fill="none" stroke="#c8640a" stroke-width="3.8" stroke-linejoin="miter"/><polygon points="576.9,812.2 579.2,816.8 584.3,817.6 580.6,821.2 581.5,826.3 576.9,823.9 572.3,826.3 573.2,821.2 569.5,817.6 574.6,816.8" fill="none" stroke="#c8640a" stroke-width="3.8" stroke-linejoin="miter"/><polygon points="667.1,812.6 669.4,817.2 674.5,818 670.8,821.6 671.6,826.7 667.1,824.3 662.5,826.7 663.4,821.6 659.6,818 664.8,817.2" fill="none" stroke="#c8640a" stroke-width="3.8" stroke-linejoin="miter"/><polygon points="757.2,813 759.5,817.6 764.6,818.4 760.9,822 761.8,827.1 757.2,824.7 752.6,827.1 753.5,822 749.8,818.4 754.9,817.6" fill="none" stroke="#c8640a" stroke-width="3.8" stroke-linejoin="miter"/><polygon points="847.3,813.3 849.6,817.9 854.8,818.7 851,822.3 851.9,827.4 847.3,825 842.8,827.4 843.6,822.3 839.9,818.7 845,817.9" fill="none" stroke="#c8640a" stroke-width="3.8" stroke-linejoin="miter"/><polygon points="937.5,813.6 939.8,818.2 944.9,819 941.2,822.6 942.1,827.7 937.5,825.3 932.9,827.7 933.8,822.6 930.1,819 935.2,818.2" fill="none" stroke="#c8640a" stroke-width="3.8" stroke-linejoin="miter"/><polygon points="1027.6,813.9 1029.9,818.5 1035,819.3 1031.3,822.9 1032.2,828 1027.6,825.6 1023,828 1023.9,822.9 1020.2,819.3 1025.3,818.5" fill="none" stroke="#c8640a" stroke-width="3.8" stroke-linejoin="miter"/><polygon points="1117.8,814.2 1120.1,818.8 1125.2,819.6 1121.5,823.2 1122.3,828.3 1117.8,825.9 1113.2,828.3 1114.1,823.2 1110.3,819.6 1115.5,818.8" fill="none" stroke="#c8640a" stroke-width="3.8" stroke-linejoin="miter"/><polygon points="1207.9,814.5 1210.2,819.1 1215.3,819.9 1211.6,823.5 1212.5,828.6 1207.9,826.2 1203.3,828.6 1204.2,823.5 1200.5,819.9 1205.6,819.1" fill="none" stroke="#c8640a" stroke-width="3.8" stroke-linejoin="miter"/><polygon points="1298,814 1300.3,818.6 1305.5,819.4 1301.7,823 1302.6,828.1 1298,825.7 1293.5,828.1 1294.3,823 1290.6,819.4 1295.7,818.6" fill="none" stroke="#c8640a" stroke-width="3.8" stroke-linejoin="miter"/><polygon points="1388.2,813 1390.5,817.6 1395.6,818.4 1391.9,822 1392.8,827.1 1388.2,824.7 1383.6,827.1 1384.5,822 1380.8,818.4 1385.9,817.6" fill="none" stroke="#c8640a" stroke-width="3.8" stroke-linejoin="miter"/><polygon points="1478.3,808.7 1480.6,813.3 1485.7,814.1 1482,817.7 1482.9,822.8 1478.3,820.4 1473.7,822.8 1474.6,817.7 1470.9,814.1 1476,813.3" fill="none" stroke="#c8640a" stroke-width="3.8" stroke-linejoin="miter"/><polygon points="1568.5,806.5 1570.8,811.1 1575.9,811.9 1572.2,815.5 1573,820.6 1568.5,818.2 1563.9,820.6 1564.8,815.5 1561,811.9 1566.2,811.1" fill="none" stroke="#c8640a" stroke-width="3.8" stroke-linejoin="miter"/><polygon points="1658.6,786.7 1660.9,791.3 1666,792.1 1662.3,795.7 1663.2,800.8 1658.6,798.4 1654,800.8 1654.9,795.7 1651.2,792.1 1656.3,791.3" fill="none" stroke="#c8640a" stroke-width="3.8" stroke-linejoin="miter"/><polygon points="1748.7,723.4 1751,728 1756.2,728.8 1752.4,732.4 1753.3,737.5 1748.7,735.1 1744.2,737.5 1745,732.4 1741.3,728.8 1746.4,728" fill="none" stroke="#c8640a" stroke-width="3.8" stroke-linejoin="miter"/><polygon points="1838.9,557 1841.2,561.6 1846.3,562.4 1842.6,566 1843.5,571.1 1838.9,568.7 1834.3,571.1 1835.2,566 1831.5,562.4 1836.6,561.6" fill="none" stroke="#c8640a" stroke-width="3.8" stroke-linejoin="miter"/><polygon points="1929,491.6 1931.3,496.2 1936.4,497 1932.7,500.6 1933.6,505.7 1929,503.3 1924.4,505.7 1925.3,500.6 1921.6,497 1926.7,496.2" fill="none" stroke="#c8640a" stroke-width="3.8" stroke-linejoin="miter"/><polygon points="2019.2,511.7 2021.5,516.3 2026.6,517.1 2022.9,520.7 2023.7,525.8 2019.2,523.4 2014.6,525.8 2015.5,520.7 2011.7,517.1 2016.9,516.3" fill="none" stroke="#c8640a" stroke-width="3.8" stroke-linejoin="miter"/><polygon points="2109.3,576 2111.6,580.6 2116.7,581.4 2113,585 2113.9,590.1 2109.3,587.7 2104.7,590.1 2105.6,585 2101.9,581.4 2107,580.6" fill="none" stroke="#c8640a" stroke-width="3.8" stroke-linejoin="miter"/>
<polygon points="306.5,821.2 315.8,828 312.3,838.9 300.7,838.9 297.2,828" fill="none" stroke="#0a9a9a" stroke-width="3.8" stroke-linejoin="miter"/><polygon points="396.6,820.6 406,827.4 402.4,838.3 390.9,838.3 387.3,827.4" fill="none" stroke="#0a9a9a" stroke-width="3.8" stroke-linejoin="miter"/><polygon points="486.8,820.2 496.1,827 492.5,838 481,838 477.5,827" fill="none" stroke="#0a9a9a" stroke-width="3.8" stroke-linejoin="miter"/><polygon points="576.9,819.9 586.2,826.7 582.7,837.6 571.2,837.6 567.6,826.7" fill="none" stroke="#0a9a9a" stroke-width="3.8" stroke-linejoin="miter"/><polygon points="667.1,819.5 676.4,826.3 672.8,837.3 661.3,837.3 657.7,826.3" fill="none" stroke="#0a9a9a" stroke-width="3.8" stroke-linejoin="miter"/><polygon points="757.2,819.2 766.5,826 763,836.9 751.4,836.9 747.9,826" fill="none" stroke="#0a9a9a" stroke-width="3.8" stroke-linejoin="miter"/><polygon points="847.3,818.6 856.7,825.4 853.1,836.3 841.6,836.3 838,825.4" fill="none" stroke="#0a9a9a" stroke-width="3.8" stroke-linejoin="miter"/><polygon points="937.5,818 946.8,824.8 943.2,835.7 931.7,835.7 928.2,824.8" fill="none" stroke="#0a9a9a" stroke-width="3.8" stroke-linejoin="miter"/><polygon points="1027.6,817.4 1036.9,824.2 1033.4,835.1 1021.9,835.1 1018.3,824.2" fill="none" stroke="#0a9a9a" stroke-width="3.8" stroke-linejoin="miter"/><polygon points="1117.8,816.8 1127.1,823.6 1123.5,834.5 1112,834.5 1108.4,823.6" fill="none" stroke="#0a9a9a" stroke-width="3.8" stroke-linejoin="miter"/><polygon points="1207.9,816.2 1217.2,823 1213.7,833.9 1202.1,833.9 1198.6,823" fill="none" stroke="#0a9a9a" stroke-width="3.8" stroke-linejoin="miter"/><polygon points="1298,813.2 1307.4,820 1303.8,830.9 1292.3,830.9 1288.7,820" fill="none" stroke="#0a9a9a" stroke-width="3.8" stroke-linejoin="miter"/><polygon points="1388.2,812.2 1397.5,819 1393.9,829.9 1382.4,829.9 1378.9,819" fill="none" stroke="#0a9a9a" stroke-width="3.8" stroke-linejoin="miter"/><polygon points="1478.3,808 1487.6,814.8 1484.1,825.7 1472.6,825.7 1469,814.8" fill="none" stroke="#0a9a9a" stroke-width="3.8" stroke-linejoin="miter"/><polygon points="1568.5,805.8 1577.8,812.6 1574.2,823.5 1562.7,823.5 1559.1,812.6" fill="none" stroke="#0a9a9a" stroke-width="3.8" stroke-linejoin="miter"/><polygon points="1658.6,784.2 1667.9,791 1664.4,801.9 1652.8,801.9 1649.3,791" fill="none" stroke="#0a9a9a" stroke-width="3.8" stroke-linejoin="miter"/><polygon points="1748.7,721.6 1758.1,728.4 1754.5,739.3 1743,739.3 1739.4,728.4" fill="none" stroke="#0a9a9a" stroke-width="3.8" stroke-linejoin="miter"/><polygon points="1838.9,554.2 1848.2,561 1844.6,571.9 1833.1,571.9 1829.6,561" fill="none" stroke="#0a9a9a" stroke-width="3.8" stroke-linejoin="miter"/><polygon points="1929,477.2 1938.3,484 1934.8,494.9 1923.3,494.9 1919.7,484" fill="none" stroke="#0a9a9a" stroke-width="3.8" stroke-linejoin="miter"/><polygon points="2019.2,508.2 2028.5,515 2024.9,525.9 2013.4,525.9 2009.8,515" fill="none" stroke="#0a9a9a" stroke-width="3.8" stroke-linejoin="miter"/><polygon points="2109.3,584.2 2118.6,591 2115.1,601.9 2103.5,601.9 2100,591" fill="none" stroke="#0a9a9a" stroke-width="3.8" stroke-linejoin="miter"/>
<polygon points="306.5,818.8 315.9,802.6 297.1,802.6" fill="none" stroke="#6e5fc8" stroke-width="3.8" stroke-linejoin="miter"/><polygon points="396.6,818.2 406,802 387.3,802" fill="none" stroke="#6e5fc8" stroke-width="3.8" stroke-linejoin="miter"/><polygon points="486.8,817.6 496.1,801.4 477.4,801.4" fill="none" stroke="#6e5fc8" stroke-width="3.8" stroke-linejoin="miter"/><polygon points="576.9,817 586.3,800.8 567.6,800.8" fill="none" stroke="#6e5fc8" stroke-width="3.8" stroke-linejoin="miter"/><polygon points="667.1,816.4 676.4,800.2 657.7,800.2" fill="none" stroke="#6e5fc8" stroke-width="3.8" stroke-linejoin="miter"/><polygon points="757.2,815.8 766.6,799.6 747.8,799.6" fill="none" stroke="#6e5fc8" stroke-width="3.8" stroke-linejoin="miter"/><polygon points="847.3,815.5 856.7,799.3 838,799.3" fill="none" stroke="#6e5fc8" stroke-width="3.8" stroke-linejoin="miter"/><polygon points="937.5,815.2 946.8,799 928.1,799" fill="none" stroke="#6e5fc8" stroke-width="3.8" stroke-linejoin="miter"/><polygon points="1027.6,814.9 1037,798.7 1018.3,798.7" fill="none" stroke="#6e5fc8" stroke-width="3.8" stroke-linejoin="miter"/><polygon points="1117.8,814.6 1127.1,798.4 1108.4,798.4" fill="none" stroke="#6e5fc8" stroke-width="3.8" stroke-linejoin="miter"/><polygon points="1207.9,814.3 1217.3,798.1 1198.5,798.1" fill="none" stroke="#6e5fc8" stroke-width="3.8" stroke-linejoin="miter"/><polygon points="1298,810.8 1307.4,794.6 1288.7,794.6" fill="none" stroke="#6e5fc8" stroke-width="3.8" stroke-linejoin="miter"/><polygon points="1388.2,808.8 1397.5,792.6 1378.8,792.6" fill="none" stroke="#6e5fc8" stroke-width="3.8" stroke-linejoin="miter"/><polygon points="1478.3,806.8 1487.7,790.6 1469,790.6" fill="none" stroke="#6e5fc8" stroke-width="3.8" stroke-linejoin="miter"/><polygon points="1568.5,800.8 1577.8,784.6 1559.1,784.6" fill="none" stroke="#6e5fc8" stroke-width="3.8" stroke-linejoin="miter"/><polygon points="1658.6,772.3 1668,756.1 1649.2,756.1" fill="none" stroke="#6e5fc8" stroke-width="3.8" stroke-linejoin="miter"/><polygon points="1748.7,672.8 1758.1,656.6 1739.4,656.6" fill="none" stroke="#6e5fc8" stroke-width="3.8" stroke-linejoin="miter"/><polygon points="1838.9,544.3 1848.2,528.1 1829.5,528.1" fill="none" stroke="#6e5fc8" stroke-width="3.8" stroke-linejoin="miter"/><polygon points="1929,493.3 1938.4,477.1 1919.7,477.1" fill="none" stroke="#6e5fc8" stroke-width="3.8" stroke-linejoin="miter"/><polygon points="2019.2,562.8 2028.5,546.6 2009.8,546.6" fill="none" stroke="#6e5fc8" stroke-width="3.8" stroke-linejoin="miter"/><polygon points="2109.3,650.8 2118.7,634.6 2099.9,634.6" fill="none" stroke="#6e5fc8" stroke-width="3.8" stroke-linejoin="miter"/>
<polygon points="296.2,812 312.5,803.1 312.5,820.9" fill="none" stroke="#9c887c" stroke-width="3.8" stroke-linejoin="miter"/><polygon points="386.3,811.8 402.6,802.9 402.6,820.7" fill="none" stroke="#9c887c" stroke-width="3.8" stroke-linejoin="miter"/><polygon points="476.5,811.3 492.8,802.4 492.8,820.3" fill="none" stroke="#9c887c" stroke-width="3.8" stroke-linejoin="miter"/><polygon points="566.6,810.9 582.9,802 582.9,819.8" fill="none" stroke="#9c887c" stroke-width="3.8" stroke-linejoin="miter"/><polygon points="656.8,810.5 673,801.5 673,819.4" fill="none" stroke="#9c887c" stroke-width="3.8" stroke-linejoin="miter"/><polygon points="746.9,810 763.2,801.1 763.2,818.9" fill="none" stroke="#9c887c" stroke-width="3.8" stroke-linejoin="miter"/><polygon points="837,809.1 853.3,800.2 853.3,818" fill="none" stroke="#9c887c" stroke-width="3.8" stroke-linejoin="miter"/><polygon points="927.2,808.2 943.5,799.3 943.5,817.1" fill="none" stroke="#9c887c" stroke-width="3.8" stroke-linejoin="miter"/><polygon points="1017.3,807.3 1033.6,798.4 1033.6,816.2" fill="none" stroke="#9c887c" stroke-width="3.8" stroke-linejoin="miter"/><polygon points="1107.5,806.4 1123.7,797.5 1123.7,815.3" fill="none" stroke="#9c887c" stroke-width="3.8" stroke-linejoin="miter"/><polygon points="1197.6,805.5 1213.9,796.6 1213.9,814.4" fill="none" stroke="#9c887c" stroke-width="3.8" stroke-linejoin="miter"/><polygon points="1287.7,802.5 1304,793.6 1304,811.4" fill="none" stroke="#9c887c" stroke-width="3.8" stroke-linejoin="miter"/><polygon points="1377.9,800 1394.2,791.1 1394.2,808.9" fill="none" stroke="#9c887c" stroke-width="3.8" stroke-linejoin="miter"/><polygon points="1468,797 1484.3,788.1 1484.3,805.9" fill="none" stroke="#9c887c" stroke-width="3.8" stroke-linejoin="miter"/><polygon points="1558.2,788 1574.4,779.1 1574.4,796.9" fill="none" stroke="#9c887c" stroke-width="3.8" stroke-linejoin="miter"/><polygon points="1648.3,757.8 1664.6,748.9 1664.6,766.7" fill="none" stroke="#9c887c" stroke-width="3.8" stroke-linejoin="miter"/><polygon points="1738.4,674 1754.7,665.1 1754.7,682.9" fill="none" stroke="#9c887c" stroke-width="3.8" stroke-linejoin="miter"/><polygon points="1828.6,510 1844.9,501.1 1844.9,518.9" fill="none" stroke="#9c887c" stroke-width="3.8" stroke-linejoin="miter"/><polygon points="1918.7,459.7 1935,450.8 1935,468.6" fill="none" stroke="#9c887c" stroke-width="3.8" stroke-linejoin="miter"/><polygon points="2008.9,543 2025.1,534.1 2025.1,551.9" fill="none" stroke="#9c887c" stroke-width="3.8" stroke-linejoin="miter"/><polygon points="2099,600 2115.3,591.1 2115.3,608.9" fill="none" stroke="#9c887c" stroke-width="3.8" stroke-linejoin="miter"/>
</g>
</g>
<g id="axes" stroke="#000" stroke-width="5" fill="none" stroke-linecap="butt">
<path d="M291.5 53.6H2138"/>
<path d="M304.2 1504.4H2138"/>
<path d="M2109.6 51.1V1506.9"/>
<path d="M291.5 1500.2H306.7M291.5 1457.4H306.7M291.5 1424.2H306.7M291.5 1397H306.7M291.5 1374H306.7M291.5 1354.1H306.7M291.5 1336.6H306.7M277.7 1320.9H306.7M291.5 1217.6H306.7M291.5 1157.2H306.7M291.5 1114.4H306.7M291.5 1081.2H306.7M291.5 1054H306.7M291.5 1031H306.7M291.5 1011.1H306.7M291.5 993.6H306.7M277.7 977.9H306.7M291.5 874.6H306.7M291.5 814.2H306.7M291.5 771.4H306.7M291.5 738.2H306.7M291.5 711H306.7M291.5 688H306.7M291.5 668.1H306.7M291.5 650.6H306.7M277.7 634.9H306.7M291.5 531.6H306.7M291.5 471.2H306.7M291.5 428.4H306.7M291.5 395.2H306.7M291.5 368H306.7M291.5 345H306.7M291.5 325.1H306.7M291.5 307.6H306.7M277.7 291.9H306.7M291.5 188.6H306.7M291.5 128.2H306.7M291.5 85.4H306.7M2109.6 1394.8H2123.5M2109.6 1330.9H2123.5M2109.6 1285.6H2123.5M2109.6 1250.4H2123.5M2109.6 1221.7H2123.5M2109.6 1197.4H2123.5M2109.6 1176.4H2123.5M2109.6 1157.8H2123.5M2109.6 1032H2123.5M2109.6 968.1H2123.5M2109.6 922.8H2123.5M2109.6 887.6H2123.5M2109.6 858.9H2123.5M2109.6 834.6H2123.5M2109.6 813.6H2123.5M2109.6 795H2123.5M2109.6 669.2H2123.5M2109.6 605.3H2123.5M2109.6 560H2123.5M2109.6 524.8H2123.5M2109.6 496.1H2123.5M2109.6 471.8H2123.5M2109.6 450.8H2123.5M2109.6 432.2H2123.5M2109.6 306.4H2123.5M2109.6 242.5H2123.5M2109.6 197.2H2123.5M2109.6 162H2123.5M2109.6 133.3H2123.5M2109.6 109H2123.5M2109.6 88H2123.5M2109.6 69.4H2123.5M2109.6 1141.2H2138M2109.6 778.4H2138M2109.6 415.6H2138M306.7 1504.4V1532.3M443 1504.4V1518.3M522.3 1504.4V1518.3M578.6 1504.4V1518.3M622.3 1504.4V1518.3M658 1504.4V1518.3M688.1 1504.4V1518.3M714.3 1504.4V1518.3M737.3 1504.4V1518.3M757.9 1504.4V1532.3M893.6 1504.4V1518.3M972.9 1504.4V1518.3M1029.2 1504.4V1518.3M1072.9 1504.4V1518.3M1108.6 1504.4V1518.3M1138.8 1504.4V1518.3M1164.9 1504.4V1518.3M1187.9 1504.4V1518.3M1208.6 1504.4V1532.3M1344.2 1504.4V1518.3M1423.6 1504.4V1518.3M1479.9 1504.4V1518.3M1523.5 1504.4V1518.3M1559.2 1504.4V1518.3M1589.4 1504.4V1518.3M1615.5 1504.4V1518.3M1638.6 1504.4V1518.3M1659.2 1504.4V1532.3M1794.8 1504.4V1518.3M1874.2 1504.4V1518.3M1930.5 1504.4V1518.3M1974.2 1504.4V1518.3M2009.8 1504.4V1518.3M2040 1504.4V1518.3M2066.1 1504.4V1518.3M2089.2 1504.4V1518.3M2109.6 1504.4V1532.3"/>
</g>
<g id="ticklabels" class="tk">
<text class="tk" x="258.5" y="310.2" text-anchor="end">1000</text>
<text class="tk" x="258.5" y="653.2" text-anchor="end">100</text>
<text class="tk" x="258.5" y="996.2" text-anchor="end">10</text>
<text class="tk" x="258.5" y="1339.2" text-anchor="end">1</text>
<text class="tk" x="2157.5" y="70.8">10000</text>
<text class="tk" x="2157.5" y="433.6">1000</text>
<text class="tk" x="2157.5" y="796.4">100</text>
<text class="tk" x="2157.5" y="1159.2">10</text>
<text class="tk" x="2157.5" y="1522">1</text>
<text class="tk" x="305.8" y="1600.5" text-anchor="middle">0.1</text>
<text class="tk" x="756.4" y="1600.5" text-anchor="middle">1</text>
<text class="tk" x="1207.1" y="1600.5" text-anchor="middle">10</text>
<text class="tk" x="1657.7" y="1600.5" text-anchor="middle">100</text>
<text class="tk" x="2108.3" y="1600.5" text-anchor="middle">1000</text>
</g>
<text class="ax" x="1207" y="1731" text-anchor="middle" fill="#000" style="font-size:89px">strain (%)</text>
<text class="ax" transform="translate(100.5 777.5) rotate(-90)" text-anchor="middle" fill="#0000ff" style="font-size:90.7px">G’ (Pa)</text>
<text class="ax" transform="translate(2410.5 779.5) rotate(-90)" text-anchor="middle" fill="#c00000" style="font-size:91.4px">G’’ (Pa)</text>
<text class="rg" x="584" y="693.5" text-anchor="middle">I</text>
<text class="rg" x="1322.5" y="1054.5" text-anchor="middle">II</text>
<text class="rg" x="1932.5" y="829" text-anchor="middle">III</text>
<text transform="translate(958.5 628) scale(1.17 1)" fill="#ff00ff" style="font-size:86px;font-style:italic">γ</text>
<text x="1002" y="652" fill="#ff00ff" style="font-size:58px">c</text>
<g class="lg1">
<text class="lg1" x="344" y="1161.3" style="fill:#1414f0">G'--</text>
<rect x="467.6" y="1138" width="17.1" height="17.1" fill="#ee0000"/><text class="lg1" x="530.5" y="1161.3">S</text>
<circle cx="630.2" cy="1146.5" r="9.6" fill="#33699e"/><text class="lg1" x="684" y="1161.3">S-Ca<tspan dy="-18" style="font-size:33px">2+</tspan></text>
<polygon points="868,1132.7 879.9,1153.4 856.1,1153.4" fill="#fdc010"/><text class="lg1" x="921.5" y="1161.3">SC-N</text>
<polygon points="1117.3,1160.3 1129.2,1139.6 1105.4,1139.6" fill="#33c46d"/><text class="lg1" x="1171" y="1161.3">SC-G</text>
<polygon points="476.5,1190.1 488.1,1201.7 476.5,1213.3 464.9,1201.7" fill="#6e6ea9"/><text class="lg1" x="530.5" y="1216.5">SC-Ca-N1</text>
<polygon points="783.4,1201.7 804.9,1189.9 804.9,1213.5" fill="#969696"/><text class="lg1" x="852" y="1216.5">SC-Ca-G4</text>
<polygon points="1138.6,1201.7 1117.1,1189.9 1117.1,1213.5" fill="#fa6068"/><text class="lg1" x="1176" y="1216.5">SC-Ca-G3</text>
<polygon points="1446.6,1191 1455.9,1196.3 1455.9,1207.1 1446.6,1212.4 1437.3,1207.1 1437.3,1196.3" fill="#6699d0"/><text class="lg1" x="1500" y="1216.5">SC-Ca-G1</text>
<polygon points="476.5,1245.3 479.9,1252.2 487.5,1253.3 482,1258.6 483.3,1266.2 476.5,1262.7 469.7,1266.2 471,1258.6 465.5,1253.3 473.1,1252.2" fill="#c8640a"/><text class="lg1" x="530.5" y="1270.5">SC-Ca-N2</text>
<polygon points="798.5,1245.3 809.5,1253.3 805.3,1266.2 791.7,1266.2 787.5,1253.3" fill="#0a9a9a"/><text class="lg1" x="852" y="1270.5">SC-Ca-G2</text>
<polygon points="1122.8,1269.5 1134.7,1248.8 1110.9,1248.8" fill="#6e5fc8"/><text class="lg1" x="1176" y="1270.5">SC-Ca-N4</text>
<polygon points="1427.4,1255.7 1448.9,1243.9 1448.9,1267.5" fill="#9c887c"/><text class="lg1" x="1497" y="1270.5">SC-Ca-N3</text>
</g>
<g class="lg2">
<text class="lg2" x="333" y="1343" style="fill:#c00000">G''--</text>
<rect x="476.1" y="1321.5" width="13.3" height="13.3" fill="none" stroke="#ee0000" stroke-width="2.9"/><text class="lg2" x="538.7" y="1343">S</text>
<circle cx="641.7" cy="1328.2" r="7.2" fill="none" stroke="#33699e" stroke-width="2.9"/><text class="lg2" x="697.5" y="1343">S-Ca<tspan dy="-18" style="font-size:33px">2+</tspan></text>
<polygon points="888,1317.9 896.9,1333.3 879.1,1333.3" fill="none" stroke="#fdc010" stroke-width="2.9" stroke-linejoin="miter"/><text class="lg2" x="943" y="1343">SC-N</text>
<polygon points="1143.6,1338.5 1152.5,1323.1 1134.7,1323.1" fill="none" stroke="#33c46d" stroke-width="2.9" stroke-linejoin="miter"/><text class="lg2" x="1199" y="1343">SC-G</text>
<polygon points="482,1374.8 491.2,1384 482,1393.2 472.8,1384" fill="none" stroke="#6e6ea9" stroke-width="2.9" stroke-linejoin="miter"/><text class="lg2" x="537.5" y="1398.8">SC-Ca-N1</text>
<polygon points="802.5,1384 818,1375.5 818,1392.5" fill="none" stroke="#969696" stroke-width="2.9" stroke-linejoin="miter"/><text class="lg2" x="869" y="1398.8">SC-Ca-G4</text>
<polygon points="1159.8,1384 1144.3,1375.5 1144.3,1392.5" fill="none" stroke="#fa6068" stroke-width="2.9" stroke-linejoin="miter"/><text class="lg2" x="1203.5" y="1398.8">SC-Ca-G3</text>
<polygon points="1480.8,1375.2 1488.5,1379.6 1488.5,1388.4 1480.8,1392.8 1473.1,1388.4 1473.1,1379.6" fill="none" stroke="#6699d0" stroke-width="2.9" stroke-linejoin="miter"/><text class="lg2" x="1536" y="1398.8">SC-Ca-G1</text>
<polygon points="482,1435 484.2,1439.4 489,1440.2 485.5,1443.6 486.4,1448.4 482,1446.1 477.6,1448.4 478.5,1443.6 475,1440.2 479.8,1439.4" fill="none" stroke="#c8640a" stroke-width="2.9" stroke-linejoin="miter"/><text class="lg2" x="537.5" y="1456.5">SC-Ca-N2</text>
<polygon points="813.3,1433.3 822.2,1439.8 818.8,1450.2 807.8,1450.2 804.4,1439.8" fill="none" stroke="#0a9a9a" stroke-width="2.9" stroke-linejoin="miter"/><text class="lg2" x="869" y="1456.5">SC-Ca-G2</text>
<polygon points="1147.4,1452 1156.3,1436.6 1138.5,1436.6" fill="none" stroke="#6e5fc8" stroke-width="2.9" stroke-linejoin="miter"/><text class="lg2" x="1203.5" y="1456.5">SC-Ca-N4</text>
<polygon points="1468.2,1441.7 1483.7,1433.2 1483.7,1450.2" fill="none" stroke="#9c887c" stroke-width="2.9" stroke-linejoin="miter"/><text class="lg2" x="1535" y="1456.5">SC-Ca-N3</text>
</g>
</svg>
</body></html>
